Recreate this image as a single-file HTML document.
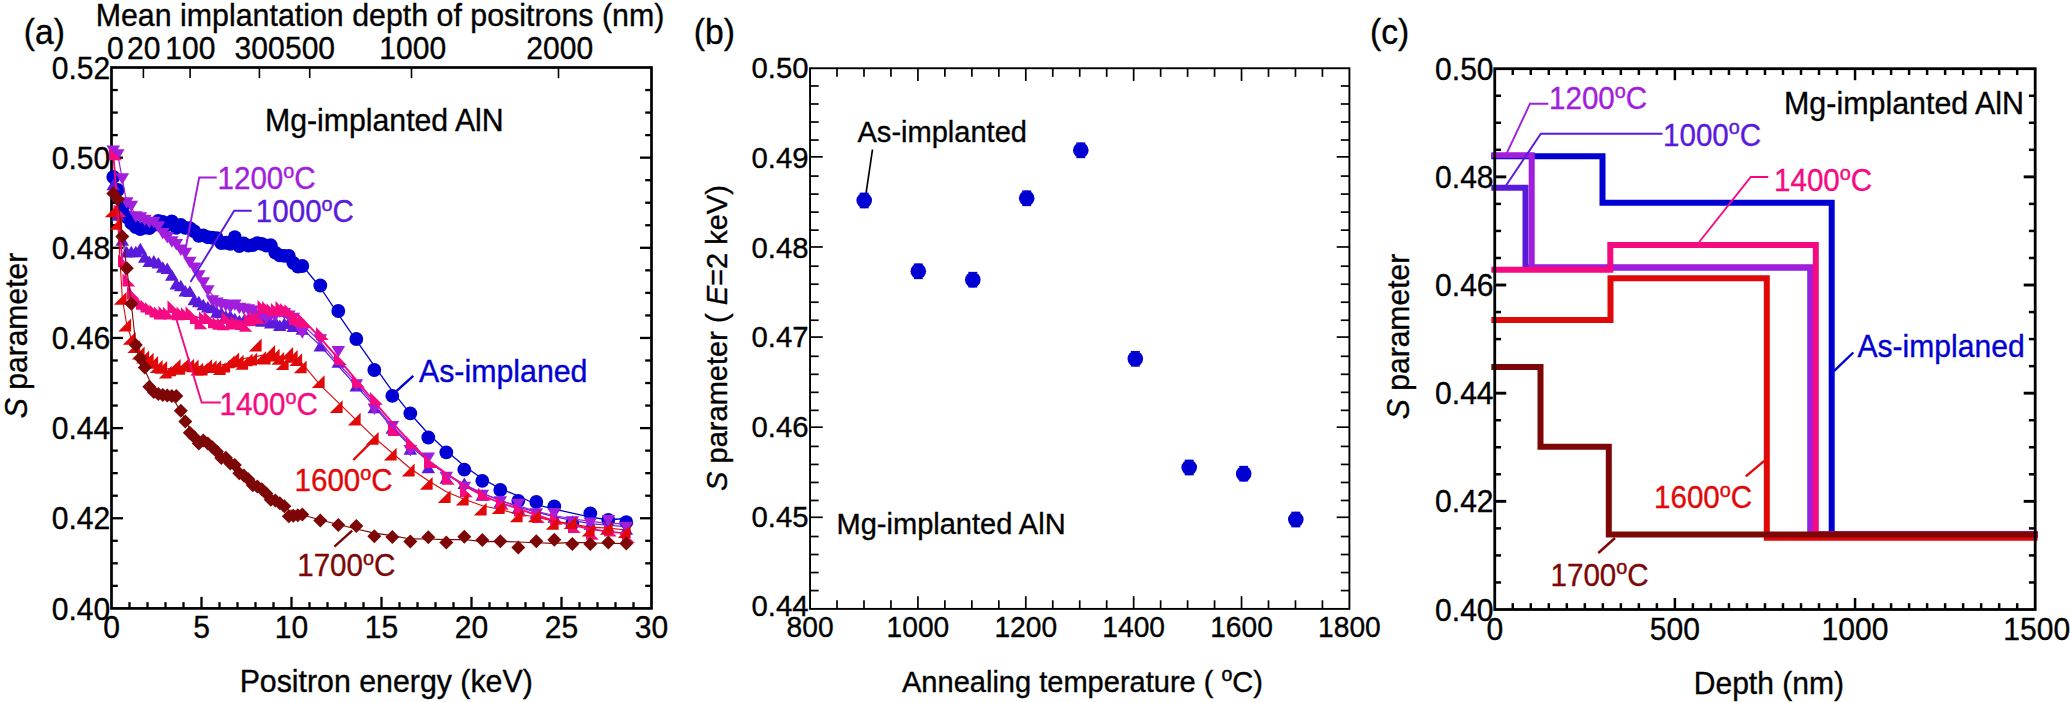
<!DOCTYPE html>
<html lang="en"><head><meta charset="utf-8"><title>Figure</title>
<style>
html,body{margin:0;padding:0;background:#fff;}
body{width:2070px;height:702px;overflow:hidden;}
svg{display:block;font-family:"Liberation Sans",sans-serif;}
text{stroke-width:0.35px;}
</style></head><body>
<svg width="2070" height="702" viewBox="0 0 2070 702">
<rect x="0" y="0" width="2070" height="702" fill="#fff"/>
<line x1="129.50" y1="608.40" x2="129.50" y2="602.10" stroke="#000" stroke-width="2.3" stroke-linecap="butt"/>
<line x1="147.50" y1="608.40" x2="147.50" y2="602.10" stroke="#000" stroke-width="2.3" stroke-linecap="butt"/>
<line x1="165.50" y1="608.40" x2="165.50" y2="602.10" stroke="#000" stroke-width="2.3" stroke-linecap="butt"/>
<line x1="183.50" y1="608.40" x2="183.50" y2="602.10" stroke="#000" stroke-width="2.3" stroke-linecap="butt"/>
<line x1="201.50" y1="608.40" x2="201.50" y2="596.90" stroke="#000" stroke-width="2.3" stroke-linecap="butt"/>
<line x1="219.50" y1="608.40" x2="219.50" y2="602.10" stroke="#000" stroke-width="2.3" stroke-linecap="butt"/>
<line x1="237.50" y1="608.40" x2="237.50" y2="602.10" stroke="#000" stroke-width="2.3" stroke-linecap="butt"/>
<line x1="255.50" y1="608.40" x2="255.50" y2="602.10" stroke="#000" stroke-width="2.3" stroke-linecap="butt"/>
<line x1="273.50" y1="608.40" x2="273.50" y2="602.10" stroke="#000" stroke-width="2.3" stroke-linecap="butt"/>
<line x1="291.50" y1="608.40" x2="291.50" y2="596.90" stroke="#000" stroke-width="2.3" stroke-linecap="butt"/>
<line x1="309.50" y1="608.40" x2="309.50" y2="602.10" stroke="#000" stroke-width="2.3" stroke-linecap="butt"/>
<line x1="327.50" y1="608.40" x2="327.50" y2="602.10" stroke="#000" stroke-width="2.3" stroke-linecap="butt"/>
<line x1="345.50" y1="608.40" x2="345.50" y2="602.10" stroke="#000" stroke-width="2.3" stroke-linecap="butt"/>
<line x1="363.50" y1="608.40" x2="363.50" y2="602.10" stroke="#000" stroke-width="2.3" stroke-linecap="butt"/>
<line x1="381.50" y1="608.40" x2="381.50" y2="596.90" stroke="#000" stroke-width="2.3" stroke-linecap="butt"/>
<line x1="399.50" y1="608.40" x2="399.50" y2="602.10" stroke="#000" stroke-width="2.3" stroke-linecap="butt"/>
<line x1="417.50" y1="608.40" x2="417.50" y2="602.10" stroke="#000" stroke-width="2.3" stroke-linecap="butt"/>
<line x1="435.50" y1="608.40" x2="435.50" y2="602.10" stroke="#000" stroke-width="2.3" stroke-linecap="butt"/>
<line x1="453.50" y1="608.40" x2="453.50" y2="602.10" stroke="#000" stroke-width="2.3" stroke-linecap="butt"/>
<line x1="471.50" y1="608.40" x2="471.50" y2="596.90" stroke="#000" stroke-width="2.3" stroke-linecap="butt"/>
<line x1="489.50" y1="608.40" x2="489.50" y2="602.10" stroke="#000" stroke-width="2.3" stroke-linecap="butt"/>
<line x1="507.50" y1="608.40" x2="507.50" y2="602.10" stroke="#000" stroke-width="2.3" stroke-linecap="butt"/>
<line x1="525.50" y1="608.40" x2="525.50" y2="602.10" stroke="#000" stroke-width="2.3" stroke-linecap="butt"/>
<line x1="543.50" y1="608.40" x2="543.50" y2="602.10" stroke="#000" stroke-width="2.3" stroke-linecap="butt"/>
<line x1="561.50" y1="608.40" x2="561.50" y2="596.90" stroke="#000" stroke-width="2.3" stroke-linecap="butt"/>
<line x1="579.50" y1="608.40" x2="579.50" y2="602.10" stroke="#000" stroke-width="2.3" stroke-linecap="butt"/>
<line x1="597.50" y1="608.40" x2="597.50" y2="602.10" stroke="#000" stroke-width="2.3" stroke-linecap="butt"/>
<line x1="615.50" y1="608.40" x2="615.50" y2="602.10" stroke="#000" stroke-width="2.3" stroke-linecap="butt"/>
<line x1="633.50" y1="608.40" x2="633.50" y2="602.10" stroke="#000" stroke-width="2.3" stroke-linecap="butt"/>
<line x1="111.50" y1="585.86" x2="117.80" y2="585.86" stroke="#000" stroke-width="2.3" stroke-linecap="butt"/>
<line x1="651.50" y1="585.86" x2="645.20" y2="585.86" stroke="#000" stroke-width="2.3" stroke-linecap="butt"/>
<line x1="111.50" y1="563.32" x2="117.80" y2="563.32" stroke="#000" stroke-width="2.3" stroke-linecap="butt"/>
<line x1="651.50" y1="563.32" x2="645.20" y2="563.32" stroke="#000" stroke-width="2.3" stroke-linecap="butt"/>
<line x1="111.50" y1="540.79" x2="117.80" y2="540.79" stroke="#000" stroke-width="2.3" stroke-linecap="butt"/>
<line x1="651.50" y1="540.79" x2="645.20" y2="540.79" stroke="#000" stroke-width="2.3" stroke-linecap="butt"/>
<line x1="111.50" y1="518.25" x2="123.00" y2="518.25" stroke="#000" stroke-width="2.3" stroke-linecap="butt"/>
<line x1="651.50" y1="518.25" x2="640.00" y2="518.25" stroke="#000" stroke-width="2.3" stroke-linecap="butt"/>
<line x1="111.50" y1="495.71" x2="117.80" y2="495.71" stroke="#000" stroke-width="2.3" stroke-linecap="butt"/>
<line x1="651.50" y1="495.71" x2="645.20" y2="495.71" stroke="#000" stroke-width="2.3" stroke-linecap="butt"/>
<line x1="111.50" y1="473.17" x2="117.80" y2="473.17" stroke="#000" stroke-width="2.3" stroke-linecap="butt"/>
<line x1="651.50" y1="473.17" x2="645.20" y2="473.17" stroke="#000" stroke-width="2.3" stroke-linecap="butt"/>
<line x1="111.50" y1="450.64" x2="117.80" y2="450.64" stroke="#000" stroke-width="2.3" stroke-linecap="butt"/>
<line x1="651.50" y1="450.64" x2="645.20" y2="450.64" stroke="#000" stroke-width="2.3" stroke-linecap="butt"/>
<line x1="111.50" y1="428.10" x2="123.00" y2="428.10" stroke="#000" stroke-width="2.3" stroke-linecap="butt"/>
<line x1="651.50" y1="428.10" x2="640.00" y2="428.10" stroke="#000" stroke-width="2.3" stroke-linecap="butt"/>
<line x1="111.50" y1="405.56" x2="117.80" y2="405.56" stroke="#000" stroke-width="2.3" stroke-linecap="butt"/>
<line x1="651.50" y1="405.56" x2="645.20" y2="405.56" stroke="#000" stroke-width="2.3" stroke-linecap="butt"/>
<line x1="111.50" y1="383.02" x2="117.80" y2="383.02" stroke="#000" stroke-width="2.3" stroke-linecap="butt"/>
<line x1="651.50" y1="383.02" x2="645.20" y2="383.02" stroke="#000" stroke-width="2.3" stroke-linecap="butt"/>
<line x1="111.50" y1="360.49" x2="117.80" y2="360.49" stroke="#000" stroke-width="2.3" stroke-linecap="butt"/>
<line x1="651.50" y1="360.49" x2="645.20" y2="360.49" stroke="#000" stroke-width="2.3" stroke-linecap="butt"/>
<line x1="111.50" y1="337.95" x2="123.00" y2="337.95" stroke="#000" stroke-width="2.3" stroke-linecap="butt"/>
<line x1="651.50" y1="337.95" x2="640.00" y2="337.95" stroke="#000" stroke-width="2.3" stroke-linecap="butt"/>
<line x1="111.50" y1="315.41" x2="117.80" y2="315.41" stroke="#000" stroke-width="2.3" stroke-linecap="butt"/>
<line x1="651.50" y1="315.41" x2="645.20" y2="315.41" stroke="#000" stroke-width="2.3" stroke-linecap="butt"/>
<line x1="111.50" y1="292.87" x2="117.80" y2="292.87" stroke="#000" stroke-width="2.3" stroke-linecap="butt"/>
<line x1="651.50" y1="292.87" x2="645.20" y2="292.87" stroke="#000" stroke-width="2.3" stroke-linecap="butt"/>
<line x1="111.50" y1="270.34" x2="117.80" y2="270.34" stroke="#000" stroke-width="2.3" stroke-linecap="butt"/>
<line x1="651.50" y1="270.34" x2="645.20" y2="270.34" stroke="#000" stroke-width="2.3" stroke-linecap="butt"/>
<line x1="111.50" y1="247.80" x2="123.00" y2="247.80" stroke="#000" stroke-width="2.3" stroke-linecap="butt"/>
<line x1="651.50" y1="247.80" x2="640.00" y2="247.80" stroke="#000" stroke-width="2.3" stroke-linecap="butt"/>
<line x1="111.50" y1="225.26" x2="117.80" y2="225.26" stroke="#000" stroke-width="2.3" stroke-linecap="butt"/>
<line x1="651.50" y1="225.26" x2="645.20" y2="225.26" stroke="#000" stroke-width="2.3" stroke-linecap="butt"/>
<line x1="111.50" y1="202.73" x2="117.80" y2="202.73" stroke="#000" stroke-width="2.3" stroke-linecap="butt"/>
<line x1="651.50" y1="202.73" x2="645.20" y2="202.73" stroke="#000" stroke-width="2.3" stroke-linecap="butt"/>
<line x1="111.50" y1="180.19" x2="117.80" y2="180.19" stroke="#000" stroke-width="2.3" stroke-linecap="butt"/>
<line x1="651.50" y1="180.19" x2="645.20" y2="180.19" stroke="#000" stroke-width="2.3" stroke-linecap="butt"/>
<line x1="111.50" y1="157.65" x2="123.00" y2="157.65" stroke="#000" stroke-width="2.3" stroke-linecap="butt"/>
<line x1="651.50" y1="157.65" x2="640.00" y2="157.65" stroke="#000" stroke-width="2.3" stroke-linecap="butt"/>
<line x1="111.50" y1="135.11" x2="117.80" y2="135.11" stroke="#000" stroke-width="2.3" stroke-linecap="butt"/>
<line x1="651.50" y1="135.11" x2="645.20" y2="135.11" stroke="#000" stroke-width="2.3" stroke-linecap="butt"/>
<line x1="111.50" y1="112.58" x2="117.80" y2="112.58" stroke="#000" stroke-width="2.3" stroke-linecap="butt"/>
<line x1="651.50" y1="112.58" x2="645.20" y2="112.58" stroke="#000" stroke-width="2.3" stroke-linecap="butt"/>
<line x1="111.50" y1="90.04" x2="117.80" y2="90.04" stroke="#000" stroke-width="2.3" stroke-linecap="butt"/>
<line x1="651.50" y1="90.04" x2="645.20" y2="90.04" stroke="#000" stroke-width="2.3" stroke-linecap="butt"/>
<line x1="143.40" y1="67.50" x2="143.40" y2="78.10" stroke="#000" stroke-width="1.6" stroke-linecap="butt"/>
<line x1="190.10" y1="67.50" x2="190.10" y2="78.10" stroke="#000" stroke-width="1.6" stroke-linecap="butt"/>
<line x1="259.40" y1="67.50" x2="259.40" y2="78.10" stroke="#000" stroke-width="1.6" stroke-linecap="butt"/>
<line x1="309.70" y1="67.50" x2="309.70" y2="78.10" stroke="#000" stroke-width="1.6" stroke-linecap="butt"/>
<line x1="411.50" y1="67.50" x2="411.50" y2="78.10" stroke="#000" stroke-width="1.6" stroke-linecap="butt"/>
<line x1="558.50" y1="67.50" x2="558.50" y2="78.10" stroke="#000" stroke-width="1.6" stroke-linecap="butt"/>
<rect x="111.50" y="67.50" width="540.00" height="540.90" fill="none" stroke="#000" stroke-width="2.7"/>
<text transform="translate(115.30,59.00) scale(0.961,1)" font-size="31.3" text-anchor="middle" fill="#000" stroke="#000" >0</text>
<text transform="translate(143.70,59.00) scale(0.961,1)" font-size="31.3" text-anchor="middle" fill="#000" stroke="#000" >20</text>
<text transform="translate(190.40,59.00) scale(0.961,1)" font-size="31.3" text-anchor="middle" fill="#000" stroke="#000" >100</text>
<text transform="translate(259.70,59.00) scale(0.961,1)" font-size="31.3" text-anchor="middle" fill="#000" stroke="#000" >300</text>
<text transform="translate(310.00,59.00) scale(0.961,1)" font-size="31.3" text-anchor="middle" fill="#000" stroke="#000" >500</text>
<text transform="translate(412.80,59.00) scale(0.961,1)" font-size="31.3" text-anchor="middle" fill="#000" stroke="#000" >1000</text>
<text transform="translate(559.80,59.00) scale(0.961,1)" font-size="31.3" text-anchor="middle" fill="#000" stroke="#000" >2000</text>
<text transform="translate(110.30,619.50) scale(0.961,1)" font-size="31.3" text-anchor="end" fill="#000" stroke="#000" >0.40</text>
<text transform="translate(110.30,529.35) scale(0.961,1)" font-size="31.3" text-anchor="end" fill="#000" stroke="#000" >0.42</text>
<text transform="translate(110.30,439.20) scale(0.961,1)" font-size="31.3" text-anchor="end" fill="#000" stroke="#000" >0.44</text>
<text transform="translate(110.30,349.05) scale(0.961,1)" font-size="31.3" text-anchor="end" fill="#000" stroke="#000" >0.46</text>
<text transform="translate(110.30,258.90) scale(0.961,1)" font-size="31.3" text-anchor="end" fill="#000" stroke="#000" >0.48</text>
<text transform="translate(110.30,168.75) scale(0.961,1)" font-size="31.3" text-anchor="end" fill="#000" stroke="#000" >0.50</text>
<text transform="translate(110.30,78.60) scale(0.961,1)" font-size="31.3" text-anchor="end" fill="#000" stroke="#000" >0.52</text>
<text transform="translate(111.50,638.00) scale(0.961,1)" font-size="31.3" text-anchor="middle" fill="#000" stroke="#000" >0</text>
<text transform="translate(201.50,638.00) scale(0.961,1)" font-size="31.3" text-anchor="middle" fill="#000" stroke="#000" >5</text>
<text transform="translate(291.50,638.00) scale(0.961,1)" font-size="31.3" text-anchor="middle" fill="#000" stroke="#000" >10</text>
<text transform="translate(381.50,638.00) scale(0.961,1)" font-size="31.3" text-anchor="middle" fill="#000" stroke="#000" >15</text>
<text transform="translate(471.50,638.00) scale(0.961,1)" font-size="31.3" text-anchor="middle" fill="#000" stroke="#000" >20</text>
<text transform="translate(561.50,638.00) scale(0.961,1)" font-size="31.3" text-anchor="middle" fill="#000" stroke="#000" >25</text>
<text transform="translate(651.50,638.00) scale(0.961,1)" font-size="31.3" text-anchor="middle" fill="#000" stroke="#000" >30</text>
<text transform="translate(380.00,25.60) scale(0.97,1)" font-size="31.3" text-anchor="middle" fill="#000" stroke="#000" >Mean implantation depth of positrons (nm)</text>
<text transform="translate(23.80,43.70) scale(0.98,1)" font-size="34.3" text-anchor="start" fill="#000" stroke="#000" >(a)</text>
<text transform="translate(384.30,131.00) scale(0.967,1)" font-size="31.3" text-anchor="middle" fill="#000" stroke="#000" >Mg-implanted AlN</text>
<text transform="translate(386.20,692.30) scale(0.969,1)" font-size="31.3" text-anchor="middle" fill="#000" stroke="#000" >Positron energy (keV)</text>
<text transform="translate(26.5,335.5) rotate(-90) scale(0.961,1)" font-size="31.3" text-anchor="middle" stroke="#000"><tspan font-style="italic">S</tspan> parameter</text>
<polyline points="113.30,177.00 117.80,190.00 122.30,208.00 126.80,217.00 131.30,223.00 135.80,227.00 140.30,227.93 144.80,227.30 149.30,226.07 153.80,224.64 158.30,224.11 162.80,222.78 167.30,223.38 171.80,224.20 176.30,225.41 180.80,226.03 185.30,228.01 189.80,229.62 194.30,231.52 198.80,233.35 203.30,234.80 207.80,236.93 212.30,238.57 216.80,239.72 221.30,239.97 225.80,241.24 230.30,242.06 234.80,243.15 239.30,243.45 243.80,243.50 248.30,243.49 252.80,244.70 257.30,244.58 261.80,245.88 266.30,247.28 270.80,248.81 275.30,250.62 279.80,253.34 284.30,256.35 288.80,259.31 293.30,259.31 297.80,260.42 302.30,265.43 320.30,287.50 338.30,314.30 356.30,340.26 374.30,365.82 392.30,391.12 410.30,413.78 428.30,433.72 446.30,450.72 464.30,466.06 482.30,478.72 500.30,488.66 518.30,495.98 536.30,504.52 554.30,509.18 572.30,513.02 590.30,517.06 608.30,519.75 626.30,518.50" fill="none" stroke="#0000D2" stroke-width="1.3" stroke-linejoin="round" stroke-linecap="butt"/>
<circle cx="113.30" cy="177.00" r="6.9" fill="#0000D2"/>
<circle cx="117.80" cy="190.00" r="6.9" fill="#0000D2"/>
<circle cx="122.30" cy="208.00" r="6.9" fill="#0000D2"/>
<circle cx="126.80" cy="217.00" r="6.9" fill="#0000D2"/>
<circle cx="131.30" cy="223.00" r="6.9" fill="#0000D2"/>
<circle cx="135.80" cy="227.00" r="6.9" fill="#0000D2"/>
<circle cx="140.30" cy="229.00" r="6.9" fill="#0000D2"/>
<circle cx="144.80" cy="227.70" r="6.9" fill="#0000D2"/>
<circle cx="149.30" cy="228.03" r="6.9" fill="#0000D2"/>
<circle cx="153.80" cy="224.76" r="6.9" fill="#0000D2"/>
<circle cx="158.30" cy="220.85" r="6.9" fill="#0000D2"/>
<circle cx="162.80" cy="221.87" r="6.9" fill="#0000D2"/>
<circle cx="167.30" cy="225.04" r="6.9" fill="#0000D2"/>
<circle cx="171.80" cy="221.38" r="6.9" fill="#0000D2"/>
<circle cx="176.30" cy="227.77" r="6.9" fill="#0000D2"/>
<circle cx="180.80" cy="224.96" r="6.9" fill="#0000D2"/>
<circle cx="185.30" cy="227.88" r="6.9" fill="#0000D2"/>
<circle cx="189.80" cy="228.16" r="6.9" fill="#0000D2"/>
<circle cx="194.30" cy="231.27" r="6.9" fill="#0000D2"/>
<circle cx="198.80" cy="235.82" r="6.9" fill="#0000D2"/>
<circle cx="203.30" cy="235.33" r="6.9" fill="#0000D2"/>
<circle cx="207.80" cy="237.24" r="6.9" fill="#0000D2"/>
<circle cx="212.30" cy="237.73" r="6.9" fill="#0000D2"/>
<circle cx="216.80" cy="238.06" r="6.9" fill="#0000D2"/>
<circle cx="221.30" cy="243.03" r="6.9" fill="#0000D2"/>
<circle cx="225.80" cy="242.76" r="6.9" fill="#0000D2"/>
<circle cx="230.30" cy="243.91" r="6.9" fill="#0000D2"/>
<circle cx="234.80" cy="237.06" r="6.9" fill="#0000D2"/>
<circle cx="239.30" cy="246.10" r="6.9" fill="#0000D2"/>
<circle cx="243.80" cy="243.51" r="6.9" fill="#0000D2"/>
<circle cx="248.30" cy="245.71" r="6.9" fill="#0000D2"/>
<circle cx="252.80" cy="245.12" r="6.9" fill="#0000D2"/>
<circle cx="257.30" cy="243.12" r="6.9" fill="#0000D2"/>
<circle cx="261.80" cy="243.79" r="6.9" fill="#0000D2"/>
<circle cx="266.30" cy="245.55" r="6.9" fill="#0000D2"/>
<circle cx="270.80" cy="245.27" r="6.9" fill="#0000D2"/>
<circle cx="275.30" cy="252.63" r="6.9" fill="#0000D2"/>
<circle cx="279.80" cy="255.46" r="6.9" fill="#0000D2"/>
<circle cx="284.30" cy="255.81" r="6.9" fill="#0000D2"/>
<circle cx="288.80" cy="255.80" r="6.9" fill="#0000D2"/>
<circle cx="293.30" cy="262.87" r="6.9" fill="#0000D2"/>
<circle cx="297.80" cy="266.57" r="6.9" fill="#0000D2"/>
<circle cx="302.30" cy="266.00" r="6.9" fill="#0000D2"/>
<circle cx="320.30" cy="285.50" r="6.9" fill="#0000D2"/>
<circle cx="338.30" cy="311.00" r="6.9" fill="#0000D2"/>
<circle cx="356.30" cy="339.00" r="6.9" fill="#0000D2"/>
<circle cx="374.30" cy="370.00" r="6.9" fill="#0000D2"/>
<circle cx="392.30" cy="395.80" r="6.9" fill="#0000D2"/>
<circle cx="410.30" cy="413.30" r="6.9" fill="#0000D2"/>
<circle cx="428.30" cy="437.50" r="6.9" fill="#0000D2"/>
<circle cx="446.30" cy="452.30" r="6.9" fill="#0000D2"/>
<circle cx="464.30" cy="469.70" r="6.9" fill="#0000D2"/>
<circle cx="482.30" cy="480.80" r="6.9" fill="#0000D2"/>
<circle cx="500.30" cy="490.00" r="6.9" fill="#0000D2"/>
<circle cx="518.30" cy="500.80" r="6.9" fill="#0000D2"/>
<circle cx="536.30" cy="502.00" r="6.9" fill="#0000D2"/>
<circle cx="554.30" cy="506.30" r="6.9" fill="#0000D2"/>
<circle cx="572.30" cy="523.50" r="6.9" fill="#0000D2"/>
<circle cx="590.30" cy="513.30" r="6.9" fill="#0000D2"/>
<circle cx="608.30" cy="520.00" r="6.9" fill="#0000D2"/>
<circle cx="626.30" cy="522.20" r="6.9" fill="#0000D2"/>
<polyline points="113.30,184.50 117.80,215.00 122.30,240.00 126.80,251.70 131.30,251.50 135.80,251.50 140.30,254.56 144.80,255.78 149.30,258.02 153.80,261.70 158.30,263.94 162.80,266.74 167.30,271.35 171.80,275.90 176.30,280.68 180.80,285.28 185.30,290.18 189.80,293.73 194.30,297.12 198.80,300.29 203.30,303.31 207.80,306.34 212.30,308.63 216.80,310.66 221.30,312.66 225.80,314.61 230.30,316.45 234.80,317.47 239.30,318.52 243.80,318.80 248.30,319.57 252.80,319.58 257.30,319.92 261.80,320.05 266.30,320.93 270.80,321.42 275.30,322.15 279.80,322.87 284.30,323.84 288.80,324.74 293.30,324.74 297.80,325.28 302.30,328.72 320.30,345.60 338.30,366.02 356.30,385.82 374.30,406.46 392.30,427.56 410.30,446.00 428.30,461.16 446.30,474.56 464.30,485.16 482.30,493.26 500.30,500.26 518.30,507.00 536.30,512.20 554.30,516.60 572.30,520.40 590.30,523.60 608.30,525.25 626.30,526.67" fill="none" stroke="#5A1ADC" stroke-width="1.2" stroke-linejoin="round" stroke-linecap="butt"/>
<polygon points="113.30,178.75 106.50,190.25 120.10,190.25" fill="#5A1ADC"/>
<polygon points="117.80,209.25 111.00,220.75 124.60,220.75" fill="#5A1ADC"/>
<polygon points="122.30,234.25 115.50,245.75 129.10,245.75" fill="#5A1ADC"/>
<polygon points="126.80,245.95 120.00,257.45 133.60,257.45" fill="#5A1ADC"/>
<polygon points="131.30,245.75 124.50,257.25 138.10,257.25" fill="#5A1ADC"/>
<polygon points="135.80,245.75 129.00,257.25 142.60,257.25" fill="#5A1ADC"/>
<polygon points="140.30,242.75 133.50,254.25 147.10,254.25" fill="#5A1ADC"/>
<polygon points="144.80,251.37 138.00,262.87 151.60,262.87" fill="#5A1ADC"/>
<polygon points="149.30,255.38 142.50,266.88 156.10,266.88" fill="#5A1ADC"/>
<polygon points="153.80,254.92 147.00,266.42 160.60,266.42" fill="#5A1ADC"/>
<polygon points="158.30,256.91 151.50,268.41 165.10,268.41" fill="#5A1ADC"/>
<polygon points="162.80,261.18 156.00,272.68 169.60,272.68" fill="#5A1ADC"/>
<polygon points="167.30,262.58 160.50,274.08 174.10,274.08" fill="#5A1ADC"/>
<polygon points="171.80,269.36 165.00,280.86 178.60,280.86" fill="#5A1ADC"/>
<polygon points="176.30,277.99 169.50,289.49 183.10,289.49" fill="#5A1ADC"/>
<polygon points="180.80,279.67 174.00,291.17 187.60,291.17" fill="#5A1ADC"/>
<polygon points="185.30,285.05 178.50,296.55 192.10,296.55" fill="#5A1ADC"/>
<polygon points="189.80,285.56 183.00,297.06 196.60,297.06" fill="#5A1ADC"/>
<polygon points="194.30,293.86 187.50,305.36 201.10,305.36" fill="#5A1ADC"/>
<polygon points="198.80,295.73 192.00,307.23 205.60,307.23" fill="#5A1ADC"/>
<polygon points="203.30,298.72 196.50,310.22 210.10,310.22" fill="#5A1ADC"/>
<polygon points="207.80,300.98 201.00,312.48 214.60,312.48" fill="#5A1ADC"/>
<polygon points="212.30,301.86 205.50,313.36 219.10,313.36" fill="#5A1ADC"/>
<polygon points="216.80,306.21 210.00,317.71 223.60,317.71" fill="#5A1ADC"/>
<polygon points="221.30,306.79 214.50,318.29 228.10,318.29" fill="#5A1ADC"/>
<polygon points="225.80,309.88 219.00,321.38 232.60,321.38" fill="#5A1ADC"/>
<polygon points="230.30,309.94 223.50,321.44 237.10,321.44" fill="#5A1ADC"/>
<polygon points="234.80,312.71 228.00,324.21 241.60,324.21" fill="#5A1ADC"/>
<polygon points="239.30,314.63 232.50,326.13 246.10,326.13" fill="#5A1ADC"/>
<polygon points="243.80,314.77 237.00,326.27 250.60,326.27" fill="#5A1ADC"/>
<polygon points="248.30,313.32 241.50,324.82 255.10,324.82" fill="#5A1ADC"/>
<polygon points="252.80,314.16 246.00,325.66 259.60,325.66" fill="#5A1ADC"/>
<polygon points="257.30,311.79 250.50,323.29 264.10,323.29" fill="#5A1ADC"/>
<polygon points="261.80,315.33 255.00,326.83 268.60,326.83" fill="#5A1ADC"/>
<polygon points="266.30,312.82 259.50,324.32 273.10,324.32" fill="#5A1ADC"/>
<polygon points="270.80,317.01 264.00,328.51 277.60,328.51" fill="#5A1ADC"/>
<polygon points="275.30,315.70 268.50,327.20 282.10,327.20" fill="#5A1ADC"/>
<polygon points="279.80,319.45 273.00,330.95 286.60,330.95" fill="#5A1ADC"/>
<polygon points="284.30,317.61 277.50,329.11 291.10,329.11" fill="#5A1ADC"/>
<polygon points="288.80,316.85 282.00,328.35 295.60,328.35" fill="#5A1ADC"/>
<polygon points="293.30,320.43 286.50,331.93 300.10,331.93" fill="#5A1ADC"/>
<polygon points="297.80,319.61 291.00,331.11 304.60,331.11" fill="#5A1ADC"/>
<polygon points="302.30,323.25 295.50,334.75 309.10,334.75" fill="#5A1ADC"/>
<polygon points="320.30,340.05 313.50,351.55 327.10,351.55" fill="#5A1ADC"/>
<polygon points="338.30,356.25 331.50,367.75 345.10,367.75" fill="#5A1ADC"/>
<polygon points="356.30,380.05 349.50,391.55 363.10,391.55" fill="#5A1ADC"/>
<polygon points="374.30,401.75 367.50,413.25 381.10,413.25" fill="#5A1ADC"/>
<polygon points="392.30,422.25 385.50,433.75 399.10,433.75" fill="#5A1ADC"/>
<polygon points="410.30,443.25 403.50,454.75 417.10,454.75" fill="#5A1ADC"/>
<polygon points="428.30,461.75 421.50,473.25 435.10,473.25" fill="#5A1ADC"/>
<polygon points="446.30,472.25 439.50,483.75 453.10,483.75" fill="#5A1ADC"/>
<polygon points="464.30,477.55 457.50,489.05 471.10,489.05" fill="#5A1ADC"/>
<polygon points="482.30,489.25 475.50,500.75 489.10,500.75" fill="#5A1ADC"/>
<polygon points="500.30,496.25 493.50,507.75 507.10,507.75" fill="#5A1ADC"/>
<polygon points="518.30,502.25 511.50,513.75 525.10,513.75" fill="#5A1ADC"/>
<polygon points="536.30,507.25 529.50,518.75 543.10,518.75" fill="#5A1ADC"/>
<polygon points="554.30,511.25 547.50,522.75 561.10,522.75" fill="#5A1ADC"/>
<polygon points="572.30,515.25 565.50,526.75 579.10,526.75" fill="#5A1ADC"/>
<polygon points="590.30,518.25 583.50,529.75 597.10,529.75" fill="#5A1ADC"/>
<polygon points="608.30,521.25 601.50,532.75 615.10,532.75" fill="#5A1ADC"/>
<polygon points="626.30,523.25 619.50,534.75 633.10,534.75" fill="#5A1ADC"/>
<polyline points="113.30,151.20 117.80,154.90 122.30,179.00 126.80,203.00 131.30,206.40 135.80,217.00 140.30,219.55 144.80,220.14 149.30,222.13 153.80,225.28 158.30,228.73 162.80,232.54 167.30,237.02 171.80,241.65 176.30,245.65 180.80,250.60 185.30,255.89 189.80,262.13 194.30,269.23 198.80,276.48 203.30,283.58 207.80,289.61 212.30,294.98 216.80,299.50 221.30,302.65 225.80,305.18 230.30,306.38 234.80,307.34 239.30,308.28 243.80,309.69 248.30,310.95 252.80,312.87 257.30,313.91 261.80,314.88 266.30,315.21 270.80,315.57 275.30,315.63 279.80,315.93 284.30,316.93 288.80,319.37 293.30,319.37 297.80,319.91 302.30,324.52 320.30,341.57 338.30,363.78 356.30,382.52 374.30,404.68 392.30,426.00 410.30,444.50 428.30,460.16 446.30,473.92 464.30,484.16 482.30,493.40 500.30,500.70 518.30,505.94 536.30,511.24 554.30,515.50 572.30,518.76 590.30,521.46 608.30,523.40 626.30,523.87" fill="none" stroke="#A01EDC" stroke-width="1.2" stroke-linejoin="round" stroke-linecap="butt"/>
<polygon points="113.30,156.95 106.50,145.45 120.10,145.45" fill="#A01EDC"/>
<polygon points="117.80,160.65 111.00,149.15 124.60,149.15" fill="#A01EDC"/>
<polygon points="122.30,184.75 115.50,173.25 129.10,173.25" fill="#A01EDC"/>
<polygon points="126.80,208.75 120.00,197.25 133.60,197.25" fill="#A01EDC"/>
<polygon points="131.30,212.15 124.50,200.65 138.10,200.65" fill="#A01EDC"/>
<polygon points="135.80,222.75 129.00,211.25 142.60,211.25" fill="#A01EDC"/>
<polygon points="140.30,223.65 133.50,212.15 147.10,212.15" fill="#A01EDC"/>
<polygon points="144.80,226.25 138.00,214.75 151.60,214.75" fill="#A01EDC"/>
<polygon points="149.30,228.55 142.50,217.05 156.10,217.05" fill="#A01EDC"/>
<polygon points="153.80,228.23 147.00,216.73 160.60,216.73" fill="#A01EDC"/>
<polygon points="158.30,232.74 151.50,221.24 165.10,221.24" fill="#A01EDC"/>
<polygon points="162.80,239.38 156.00,227.88 169.60,227.88" fill="#A01EDC"/>
<polygon points="167.30,243.49 160.50,231.99 174.10,231.99" fill="#A01EDC"/>
<polygon points="171.80,247.63 165.00,236.13 178.60,236.13" fill="#A01EDC"/>
<polygon points="176.30,250.59 169.50,239.09 183.10,239.09" fill="#A01EDC"/>
<polygon points="180.80,255.92 174.00,244.42 187.60,244.42" fill="#A01EDC"/>
<polygon points="185.30,259.37 178.50,247.87 192.10,247.87" fill="#A01EDC"/>
<polygon points="189.80,268.26 183.00,256.76 196.60,256.76" fill="#A01EDC"/>
<polygon points="194.30,274.07 187.50,262.57 201.10,262.57" fill="#A01EDC"/>
<polygon points="198.80,281.78 192.00,270.28 205.60,270.28" fill="#A01EDC"/>
<polygon points="203.30,288.79 196.50,277.29 210.10,277.29" fill="#A01EDC"/>
<polygon points="207.80,296.68 201.00,285.18 214.60,285.18" fill="#A01EDC"/>
<polygon points="212.30,306.69 205.50,295.19 219.10,295.19" fill="#A01EDC"/>
<polygon points="216.80,309.03 210.00,297.53 223.60,297.53" fill="#A01EDC"/>
<polygon points="221.30,310.50 214.50,299.00 228.10,299.00" fill="#A01EDC"/>
<polygon points="225.80,311.61 219.00,300.11 232.60,300.11" fill="#A01EDC"/>
<polygon points="230.30,313.42 223.50,301.92 237.10,301.92" fill="#A01EDC"/>
<polygon points="234.80,310.90 228.00,299.40 241.60,299.40" fill="#A01EDC"/>
<polygon points="239.30,314.34 232.50,302.84 246.10,302.84" fill="#A01EDC"/>
<polygon points="243.80,315.10 237.00,303.60 250.60,303.60" fill="#A01EDC"/>
<polygon points="248.30,315.77 241.50,304.27 255.10,304.27" fill="#A01EDC"/>
<polygon points="252.80,317.04 246.00,305.54 259.60,305.54" fill="#A01EDC"/>
<polygon points="257.30,321.50 250.50,310.00 264.10,310.00" fill="#A01EDC"/>
<polygon points="261.80,322.23 255.00,310.73 268.60,310.73" fill="#A01EDC"/>
<polygon points="266.30,324.32 259.50,312.82 273.10,312.82" fill="#A01EDC"/>
<polygon points="270.80,321.64 264.00,310.14 277.60,310.14" fill="#A01EDC"/>
<polygon points="275.30,321.91 268.50,310.41 282.10,310.41" fill="#A01EDC"/>
<polygon points="279.80,318.09 273.00,306.59 286.60,306.59" fill="#A01EDC"/>
<polygon points="284.30,319.58 277.50,308.08 291.10,308.08" fill="#A01EDC"/>
<polygon points="288.80,321.90 282.00,310.40 295.60,310.40" fill="#A01EDC"/>
<polygon points="293.30,324.28 286.50,312.78 300.10,312.78" fill="#A01EDC"/>
<polygon points="297.80,331.34 291.00,319.84 304.60,319.84" fill="#A01EDC"/>
<polygon points="302.30,338.75 295.50,327.25 309.10,327.25" fill="#A01EDC"/>
<polygon points="320.30,345.75 313.50,334.25 327.10,334.25" fill="#A01EDC"/>
<polygon points="338.30,357.45 331.50,345.95 345.10,345.95" fill="#A01EDC"/>
<polygon points="356.30,390.75 349.50,379.25 363.10,379.25" fill="#A01EDC"/>
<polygon points="374.30,414.95 367.50,403.45 381.10,403.45" fill="#A01EDC"/>
<polygon points="392.30,432.45 385.50,420.95 399.10,420.95" fill="#A01EDC"/>
<polygon points="410.30,456.55 403.50,445.05 417.10,445.05" fill="#A01EDC"/>
<polygon points="428.30,464.05 421.50,452.55 435.10,452.55" fill="#A01EDC"/>
<polygon points="446.30,483.25 439.50,471.75 453.10,471.75" fill="#A01EDC"/>
<polygon points="464.30,493.25 457.50,481.75 471.10,481.75" fill="#A01EDC"/>
<polygon points="482.30,501.25 475.50,489.75 489.10,489.75" fill="#A01EDC"/>
<polygon points="500.30,507.75 493.50,496.25 507.10,496.25" fill="#A01EDC"/>
<polygon points="518.30,510.25 511.50,498.75 525.10,498.75" fill="#A01EDC"/>
<polygon points="536.30,519.75 529.50,508.25 543.10,508.25" fill="#A01EDC"/>
<polygon points="554.30,519.45 547.50,507.95 561.10,507.95" fill="#A01EDC"/>
<polygon points="572.30,527.75 565.50,516.25 579.10,516.25" fill="#A01EDC"/>
<polygon points="590.30,529.05 583.50,517.55 597.10,517.55" fill="#A01EDC"/>
<polygon points="608.30,526.55 601.50,515.05 615.10,515.05" fill="#A01EDC"/>
<polygon points="626.30,533.25 619.50,521.75 633.10,521.75" fill="#A01EDC"/>
<polyline points="113.30,153.80 117.80,210.70 122.30,260.90 126.80,280.00 131.30,293.00 135.80,300.00 140.30,304.40 144.80,305.72 149.30,308.32 153.80,310.12 158.30,311.54 162.80,311.22 167.30,311.81 171.80,311.80 176.30,312.08 180.80,312.02 185.30,314.18 189.80,315.97 194.30,316.39 198.80,317.65 203.30,319.03 207.80,320.62 212.30,320.62 216.80,320.67 221.30,321.33 225.80,322.24 230.30,322.73 234.80,322.18 239.30,321.30 243.80,321.34 248.30,318.93 252.80,316.82 257.30,314.82 261.80,312.55 266.30,310.81 270.80,309.61 275.30,308.57 279.80,310.36 284.30,312.18 288.80,313.90 293.30,313.90 297.80,314.65 302.30,319.01 320.30,337.90 338.30,358.60 356.30,380.16 374.30,401.96 392.30,422.60 410.30,442.06 428.30,460.56 446.30,473.50 464.30,485.66 482.30,495.32 500.30,503.00 518.30,508.50 536.30,515.00 554.30,521.00 572.30,525.00 590.30,529.00 608.30,531.67 626.30,533.33" fill="none" stroke="#F50A82" stroke-width="1.9" stroke-linejoin="round" stroke-linecap="butt"/>
<polygon points="109.00,147.40 109.00,160.20 121.80,160.20" fill="#F50A82"/>
<polygon points="113.50,204.30 113.50,217.10 126.30,217.10" fill="#F50A82"/>
<polygon points="118.00,254.50 118.00,267.30 130.80,267.30" fill="#F50A82"/>
<polygon points="122.50,273.60 122.50,286.40 135.30,286.40" fill="#F50A82"/>
<polygon points="127.00,286.60 127.00,299.40 139.80,299.40" fill="#F50A82"/>
<polygon points="131.50,293.60 131.50,306.40 144.30,306.40" fill="#F50A82"/>
<polygon points="136.00,296.90 136.00,309.70 148.80,309.70" fill="#F50A82"/>
<polygon points="140.50,299.60 140.50,312.40 153.30,312.40" fill="#F50A82"/>
<polygon points="145.00,301.90 145.00,314.70 157.80,314.70" fill="#F50A82"/>
<polygon points="149.50,304.60 149.50,317.40 162.30,317.40" fill="#F50A82"/>
<polygon points="154.00,306.60 154.00,319.40 166.80,319.40" fill="#F50A82"/>
<polygon points="158.50,305.92 158.50,318.72 171.30,318.72" fill="#F50A82"/>
<polygon points="163.00,306.68 163.00,319.48 175.80,319.48" fill="#F50A82"/>
<polygon points="167.50,300.32 167.50,313.12 180.30,313.12" fill="#F50A82"/>
<polygon points="172.00,307.53 172.00,320.33 184.80,320.33" fill="#F50A82"/>
<polygon points="176.50,306.58 176.50,319.38 189.30,319.38" fill="#F50A82"/>
<polygon points="181.00,307.32 181.00,320.12 193.80,320.12" fill="#F50A82"/>
<polygon points="185.50,306.36 185.50,319.16 198.30,319.16" fill="#F50A82"/>
<polygon points="190.00,311.11 190.00,323.91 202.80,323.91" fill="#F50A82"/>
<polygon points="194.50,316.50 194.50,329.30 207.30,329.30" fill="#F50A82"/>
<polygon points="199.00,311.16 199.00,323.96 211.80,323.96" fill="#F50A82"/>
<polygon points="203.50,310.89 203.50,323.69 216.30,323.69" fill="#F50A82"/>
<polygon points="208.00,315.43 208.00,328.23 220.80,328.23" fill="#F50A82"/>
<polygon points="212.50,316.99 212.50,329.79 225.30,329.79" fill="#F50A82"/>
<polygon points="217.00,317.43 217.00,330.23 229.80,330.23" fill="#F50A82"/>
<polygon points="221.50,311.16 221.50,323.96 234.30,323.96" fill="#F50A82"/>
<polygon points="226.00,316.79 226.00,329.59 238.80,329.59" fill="#F50A82"/>
<polygon points="230.50,315.83 230.50,328.63 243.30,328.63" fill="#F50A82"/>
<polygon points="235.00,317.24 235.00,330.04 247.80,330.04" fill="#F50A82"/>
<polygon points="239.50,318.90 239.50,331.70 252.30,331.70" fill="#F50A82"/>
<polygon points="244.00,313.10 244.00,325.90 256.80,325.90" fill="#F50A82"/>
<polygon points="248.50,311.28 248.50,324.08 261.30,324.08" fill="#F50A82"/>
<polygon points="253.00,311.45 253.00,324.25 265.80,324.25" fill="#F50A82"/>
<polygon points="257.50,299.93 257.50,312.73 270.30,312.73" fill="#F50A82"/>
<polygon points="262.00,301.02 262.00,313.82 274.80,313.82" fill="#F50A82"/>
<polygon points="266.50,303.25 266.50,316.05 279.30,316.05" fill="#F50A82"/>
<polygon points="271.00,303.00 271.00,315.80 283.80,315.80" fill="#F50A82"/>
<polygon points="275.50,300.94 275.50,313.74 288.30,313.74" fill="#F50A82"/>
<polygon points="280.00,302.89 280.00,315.69 292.80,315.69" fill="#F50A82"/>
<polygon points="284.50,304.16 284.50,316.96 297.30,316.96" fill="#F50A82"/>
<polygon points="289.00,312.48 289.00,325.28 301.80,325.28" fill="#F50A82"/>
<polygon points="293.50,313.72 293.50,326.52 306.30,326.52" fill="#F50A82"/>
<polygon points="298.00,315.30 298.00,328.10 310.80,328.10" fill="#F50A82"/>
<polygon points="316.00,327.10 316.00,339.90 328.80,339.90" fill="#F50A82"/>
<polygon points="334.00,352.10 334.00,364.90 346.80,364.90" fill="#F50A82"/>
<polygon points="352.00,374.60 352.00,387.40 364.80,387.40" fill="#F50A82"/>
<polygon points="370.00,391.90 370.00,404.70 382.80,404.70" fill="#F50A82"/>
<polygon points="388.00,423.10 388.00,435.90 400.80,435.90" fill="#F50A82"/>
<polygon points="406.00,436.10 406.00,448.90 418.80,448.90" fill="#F50A82"/>
<polygon points="424.00,455.30 424.00,468.10 436.80,468.10" fill="#F50A82"/>
<polygon points="442.00,471.90 442.00,484.70 454.80,484.70" fill="#F50A82"/>
<polygon points="460.00,484.40 460.00,497.20 472.80,497.20" fill="#F50A82"/>
<polygon points="478.00,487.80 478.00,500.60 490.80,500.60" fill="#F50A82"/>
<polygon points="496.00,496.90 496.00,509.70 508.80,509.70" fill="#F50A82"/>
<polygon points="514.00,503.60 514.00,516.40 526.80,516.40" fill="#F50A82"/>
<polygon points="532.00,510.30 532.00,523.10 544.80,523.10" fill="#F50A82"/>
<polygon points="550.00,511.90 550.00,524.70 562.80,524.70" fill="#F50A82"/>
<polygon points="568.00,520.30 568.00,533.10 580.80,533.10" fill="#F50A82"/>
<polygon points="586.00,526.90 586.00,539.70 598.80,539.70" fill="#F50A82"/>
<polygon points="604.00,523.60 604.00,536.40 616.80,536.40" fill="#F50A82"/>
<polygon points="622.00,530.30 622.00,543.10 634.80,543.10" fill="#F50A82"/>
<polyline points="113.30,210.80 117.80,223.40 122.30,298.30 126.80,325.00 131.30,338.30 135.80,346.70 140.30,353.95 144.80,355.62 149.30,359.58 153.80,362.44 158.30,365.47 162.80,367.62 167.30,368.22 171.80,368.61 176.30,367.99 180.80,366.59 185.30,365.78 189.80,366.55 194.30,366.78 198.80,366.53 203.30,366.86 207.80,367.36 212.30,367.40 216.80,366.36 221.30,364.90 225.80,364.25 230.30,363.77 234.80,362.82 239.30,361.47 243.80,358.45 248.30,357.84 252.80,357.73 257.30,356.36 261.80,355.21 266.30,354.98 270.80,355.63 275.30,356.83 279.80,356.66 284.30,356.88 288.80,359.08 293.30,359.08 297.80,359.72 302.30,363.62 320.30,385.09 338.30,402.55 356.30,420.02 374.30,437.68 392.30,453.00 410.30,468.50 428.30,480.68 446.30,491.68 464.30,499.18 482.30,505.68 500.30,509.50 518.30,514.32 536.30,516.98 554.30,521.48 572.30,523.98 590.30,527.16 608.30,528.12 626.30,530.00" fill="none" stroke="#E00808" stroke-width="1.1" stroke-linejoin="round" stroke-linecap="butt"/>
<polygon points="117.60,204.40 117.60,217.20 104.80,217.20" fill="#E00808"/>
<polygon points="122.10,217.00 122.10,229.80 109.30,229.80" fill="#E00808"/>
<polygon points="126.60,291.90 126.60,304.70 113.80,304.70" fill="#E00808"/>
<polygon points="131.10,318.60 131.10,331.40 118.30,331.40" fill="#E00808"/>
<polygon points="135.60,331.90 135.60,344.70 122.80,344.70" fill="#E00808"/>
<polygon points="140.10,340.30 140.10,353.10 127.30,353.10" fill="#E00808"/>
<polygon points="144.60,346.60 144.60,359.40 131.80,359.40" fill="#E00808"/>
<polygon points="149.10,350.60 149.10,363.40 136.30,363.40" fill="#E00808"/>
<polygon points="153.60,352.71 153.60,365.51 140.80,365.51" fill="#E00808"/>
<polygon points="158.10,355.90 158.10,368.70 145.30,368.70" fill="#E00808"/>
<polygon points="162.60,360.10 162.60,372.90 149.80,372.90" fill="#E00808"/>
<polygon points="167.10,360.89 167.10,373.69 154.30,373.69" fill="#E00808"/>
<polygon points="171.60,365.73 171.60,378.53 158.80,378.53" fill="#E00808"/>
<polygon points="176.10,363.50 176.10,376.30 163.30,376.30" fill="#E00808"/>
<polygon points="180.60,358.89 180.60,371.69 167.80,371.69" fill="#E00808"/>
<polygon points="185.10,362.02 185.10,374.82 172.30,374.82" fill="#E00808"/>
<polygon points="189.60,357.82 189.60,370.62 176.80,370.62" fill="#E00808"/>
<polygon points="194.10,358.73 194.10,371.53 181.30,371.53" fill="#E00808"/>
<polygon points="198.60,359.44 198.60,372.24 185.80,372.24" fill="#E00808"/>
<polygon points="203.10,362.73 203.10,375.53 190.30,375.53" fill="#E00808"/>
<polygon points="207.60,362.70 207.60,375.50 194.80,375.50" fill="#E00808"/>
<polygon points="212.10,359.24 212.10,372.04 199.30,372.04" fill="#E00808"/>
<polygon points="216.60,360.23 216.60,373.03 203.80,373.03" fill="#E00808"/>
<polygon points="221.10,360.18 221.10,372.98 208.30,372.98" fill="#E00808"/>
<polygon points="225.60,362.20 225.60,375.00 212.80,375.00" fill="#E00808"/>
<polygon points="230.10,359.70 230.10,372.50 217.30,372.50" fill="#E00808"/>
<polygon points="234.60,355.47 234.60,368.27 221.80,368.27" fill="#E00808"/>
<polygon points="239.10,352.48 239.10,365.28 226.30,365.28" fill="#E00808"/>
<polygon points="243.60,354.69 243.60,367.49 230.80,367.49" fill="#E00808"/>
<polygon points="248.10,356.90 248.10,369.70 235.30,369.70" fill="#E00808"/>
<polygon points="252.60,353.49 252.60,366.29 239.80,366.29" fill="#E00808"/>
<polygon points="257.10,352.73 257.10,365.53 244.30,365.53" fill="#E00808"/>
<polygon points="261.60,338.60 261.60,351.40 248.80,351.40" fill="#E00808"/>
<polygon points="266.10,351.19 266.10,363.99 253.30,363.99" fill="#E00808"/>
<polygon points="270.60,351.74 270.60,364.54 257.80,364.54" fill="#E00808"/>
<polygon points="275.10,345.10 275.10,357.90 262.30,357.90" fill="#E00808"/>
<polygon points="279.60,348.81 279.60,361.61 266.80,361.61" fill="#E00808"/>
<polygon points="284.10,351.88 284.10,364.68 271.30,364.68" fill="#E00808"/>
<polygon points="288.60,357.30 288.60,370.10 275.80,370.10" fill="#E00808"/>
<polygon points="293.10,346.98 293.10,359.78 280.30,359.78" fill="#E00808"/>
<polygon points="297.60,350.02 297.60,362.82 284.80,362.82" fill="#E00808"/>
<polygon points="302.10,353.26 302.10,366.06 289.30,366.06" fill="#E00808"/>
<polygon points="306.60,360.47 306.60,373.27 293.80,373.27" fill="#E00808"/>
<polygon points="324.60,375.30 324.60,388.10 311.80,388.10" fill="#E00808"/>
<polygon points="342.60,400.30 342.60,413.10 329.80,413.10" fill="#E00808"/>
<polygon points="360.60,412.80 360.60,425.60 347.80,425.60" fill="#E00808"/>
<polygon points="378.60,431.90 378.60,444.70 365.80,444.70" fill="#E00808"/>
<polygon points="396.60,447.80 396.60,460.60 383.80,460.60" fill="#E00808"/>
<polygon points="414.60,463.60 414.60,476.40 401.80,476.40" fill="#E00808"/>
<polygon points="432.60,476.90 432.60,489.70 419.80,489.70" fill="#E00808"/>
<polygon points="450.60,490.30 450.60,503.10 437.80,503.10" fill="#E00808"/>
<polygon points="468.60,492.80 468.60,505.60 455.80,505.60" fill="#E00808"/>
<polygon points="486.60,502.80 486.60,515.60 473.80,515.60" fill="#E00808"/>
<polygon points="504.60,501.10 504.60,513.90 491.80,513.90" fill="#E00808"/>
<polygon points="522.60,509.40 522.60,522.20 509.80,522.20" fill="#E00808"/>
<polygon points="540.60,509.40 540.60,522.20 527.80,522.20" fill="#E00808"/>
<polygon points="558.60,516.90 558.60,529.70 545.80,529.70" fill="#E00808"/>
<polygon points="576.60,516.10 576.60,528.90 563.80,528.90" fill="#E00808"/>
<polygon points="594.60,523.60 594.60,536.40 581.80,536.40" fill="#E00808"/>
<polygon points="612.60,521.90 612.60,534.70 599.80,534.70" fill="#E00808"/>
<polygon points="630.60,525.30 630.60,538.10 617.80,538.10" fill="#E00808"/>
<polyline points="113.30,193.50 117.80,199.20 122.30,236.40 126.80,268.30 131.30,303.80 135.80,345.00 140.30,364.38 144.80,369.90 149.30,379.70 153.80,387.04 158.30,392.64 162.80,394.50 167.30,395.30 171.80,398.66 176.30,403.96 180.80,411.42 185.30,419.67 189.80,429.15 194.30,432.81 198.80,438.03 203.30,442.32 207.80,445.92 212.30,448.86 216.80,451.73 221.30,455.23 225.80,459.47 230.30,463.49 234.80,467.45 239.30,471.32 243.80,475.43 248.30,479.10 252.80,483.17 257.30,486.96 261.80,490.53 266.30,493.96 270.80,496.99 275.30,501.23 279.80,505.03 284.30,508.17 288.80,510.28 293.30,510.28 297.80,511.91 302.30,514.81 320.30,520.03 338.30,524.48 356.30,528.98 374.30,533.16 392.30,535.62 410.30,538.92 428.30,539.00 446.30,539.60 464.30,539.54 482.30,541.60 500.30,541.34 518.30,541.96 536.30,542.78 554.30,543.36 572.30,542.36 590.30,542.80 608.30,543.55 626.30,543.37" fill="none" stroke="#7D0606" stroke-width="1.1" stroke-linejoin="round" stroke-linecap="butt"/>
<polygon points="113.30,186.50 120.30,193.50 113.30,200.50 106.30,193.50" fill="#7D0606"/>
<polygon points="117.80,192.20 124.80,199.20 117.80,206.20 110.80,199.20" fill="#7D0606"/>
<polygon points="122.30,229.40 129.30,236.40 122.30,243.40 115.30,236.40" fill="#7D0606"/>
<polygon points="126.80,261.30 133.80,268.30 126.80,275.30 119.80,268.30" fill="#7D0606"/>
<polygon points="131.30,296.80 138.30,303.80 131.30,310.80 124.30,303.80" fill="#7D0606"/>
<polygon points="135.80,338.00 142.80,345.00 135.80,352.00 128.80,345.00" fill="#7D0606"/>
<polygon points="140.30,351.30 147.30,358.30 140.30,365.30 133.30,358.30" fill="#7D0606"/>
<polygon points="144.80,360.50 151.80,367.50 144.80,374.50 137.80,367.50" fill="#7D0606"/>
<polygon points="149.30,379.70 156.30,386.70 149.30,393.70 142.30,386.70" fill="#7D0606"/>
<polygon points="153.80,385.00 160.80,392.00 153.80,399.00 146.80,392.00" fill="#7D0606"/>
<polygon points="158.30,387.00 165.30,394.00 158.30,401.00 151.30,394.00" fill="#7D0606"/>
<polygon points="162.80,388.00 169.80,395.00 162.80,402.00 155.80,395.00" fill="#7D0606"/>
<polygon points="167.30,388.50 174.30,395.50 167.30,402.50 160.30,395.50" fill="#7D0606"/>
<polygon points="171.80,389.00 178.80,396.00 171.80,403.00 164.80,396.00" fill="#7D0606"/>
<polygon points="176.30,389.00 183.30,396.00 176.30,403.00 169.30,396.00" fill="#7D0606"/>
<polygon points="180.80,403.80 187.80,410.80 180.80,417.80 173.80,410.80" fill="#7D0606"/>
<polygon points="185.30,414.50 192.30,421.50 185.30,428.50 178.30,421.50" fill="#7D0606"/>
<polygon points="189.80,425.81 196.80,432.81 189.80,439.81 182.80,432.81" fill="#7D0606"/>
<polygon points="194.30,430.26 201.30,437.26 194.30,444.26 187.30,437.26" fill="#7D0606"/>
<polygon points="198.80,436.40 205.80,443.40 198.80,450.40 191.80,443.40" fill="#7D0606"/>
<polygon points="203.30,433.38 210.30,440.38 203.30,447.38 196.30,440.38" fill="#7D0606"/>
<polygon points="207.80,436.54 214.80,443.54 207.80,450.54 200.80,443.54" fill="#7D0606"/>
<polygon points="212.30,440.33 219.30,447.33 212.30,454.33 205.30,447.33" fill="#7D0606"/>
<polygon points="216.80,444.52 223.80,451.52 216.80,458.52 209.80,451.52" fill="#7D0606"/>
<polygon points="221.30,451.02 228.30,458.02 221.30,465.02 214.30,458.02" fill="#7D0606"/>
<polygon points="225.80,450.82 232.80,457.82 225.80,464.82 218.80,457.82" fill="#7D0606"/>
<polygon points="230.30,456.47 237.30,463.47 230.30,470.47 223.30,463.47" fill="#7D0606"/>
<polygon points="234.80,457.94 241.80,464.94 234.80,471.94 227.80,464.94" fill="#7D0606"/>
<polygon points="239.30,466.16 246.30,473.16 239.30,480.16 232.30,473.16" fill="#7D0606"/>
<polygon points="243.80,468.54 250.80,475.54 243.80,482.54 236.80,475.54" fill="#7D0606"/>
<polygon points="248.30,472.19 255.30,479.19 248.30,486.19 241.30,479.19" fill="#7D0606"/>
<polygon points="252.80,478.13 259.80,485.13 252.80,492.13 245.80,485.13" fill="#7D0606"/>
<polygon points="257.30,479.56 264.30,486.56 257.30,493.56 250.30,486.56" fill="#7D0606"/>
<polygon points="261.80,482.19 268.80,489.19 261.80,496.19 254.80,489.19" fill="#7D0606"/>
<polygon points="266.30,486.41 273.30,493.41 266.30,500.41 259.30,493.41" fill="#7D0606"/>
<polygon points="270.80,492.70 277.80,499.70 270.80,506.70 263.80,499.70" fill="#7D0606"/>
<polygon points="275.30,493.49 282.30,500.49 275.30,507.49 268.30,500.49" fill="#7D0606"/>
<polygon points="279.80,496.25 286.80,503.25 279.80,510.25 272.80,503.25" fill="#7D0606"/>
<polygon points="284.30,499.30 291.30,506.30 284.30,513.30 277.30,506.30" fill="#7D0606"/>
<polygon points="288.80,509.24 295.80,516.24 288.80,523.24 281.80,516.24" fill="#7D0606"/>
<polygon points="293.30,508.82 300.30,515.82 293.30,522.82 286.30,515.82" fill="#7D0606"/>
<polygon points="297.80,508.37 304.80,515.37 297.80,522.37 290.80,515.37" fill="#7D0606"/>
<polygon points="302.30,507.50 309.30,514.50 302.30,521.50 295.30,514.50" fill="#7D0606"/>
<polygon points="320.30,513.60 327.30,520.60 320.30,527.60 313.30,520.60" fill="#7D0606"/>
<polygon points="338.30,518.00 345.30,525.00 338.30,532.00 331.30,525.00" fill="#7D0606"/>
<polygon points="356.30,519.00 363.30,526.00 356.30,533.00 349.30,526.00" fill="#7D0606"/>
<polygon points="374.30,529.30 381.30,536.30 374.30,543.30 367.30,536.30" fill="#7D0606"/>
<polygon points="392.30,530.00 399.30,537.00 392.30,544.00 385.30,537.00" fill="#7D0606"/>
<polygon points="410.30,534.50 417.30,541.50 410.30,548.50 403.30,541.50" fill="#7D0606"/>
<polygon points="428.30,530.30 435.30,537.30 428.30,544.30 421.30,537.30" fill="#7D0606"/>
<polygon points="446.30,535.50 453.30,542.50 446.30,549.50 439.30,542.50" fill="#7D0606"/>
<polygon points="464.30,529.70 471.30,536.70 464.30,543.70 457.30,536.70" fill="#7D0606"/>
<polygon points="482.30,533.00 489.30,540.00 482.30,547.00 475.30,540.00" fill="#7D0606"/>
<polygon points="500.30,534.20 507.30,541.20 500.30,548.20 493.30,541.20" fill="#7D0606"/>
<polygon points="518.30,540.60 525.30,547.60 518.30,554.60 511.30,547.60" fill="#7D0606"/>
<polygon points="536.30,534.20 543.30,541.20 536.30,548.20 529.30,541.20" fill="#7D0606"/>
<polygon points="554.30,532.80 561.30,539.80 554.30,546.80 547.30,539.80" fill="#7D0606"/>
<polygon points="572.30,537.10 579.30,544.10 572.30,551.10 565.30,544.10" fill="#7D0606"/>
<polygon points="590.30,537.10 597.30,544.10 590.30,551.10 583.30,544.10" fill="#7D0606"/>
<polygon points="608.30,535.60 615.30,542.60 608.30,549.60 601.30,542.60" fill="#7D0606"/>
<polygon points="626.30,536.40 633.30,543.40 626.30,550.40 619.30,543.40" fill="#7D0606"/>
<polyline points="216.70,177.50 199.20,177.50 185.00,251.70" fill="none" stroke="#A01EDC" stroke-width="1.9" stroke-linejoin="miter" stroke-linecap="butt"/>
<text transform="translate(217.50,189.00) scale(0.945,1)" font-size="31.3" text-anchor="start" fill="#A01EDC" stroke="#A01EDC" >1200<tspan font-size="20.97" dy="-11.27" stroke="#A01EDC" stroke-width="0.5">o</tspan><tspan dy="11.27">C</tspan></text>
<polyline points="251.70,210.80 234.20,210.80 190.50,282.00" fill="none" stroke="#5A1ADC" stroke-width="1.9" stroke-linejoin="miter" stroke-linecap="butt"/>
<text transform="translate(255.80,222.30) scale(0.945,1)" font-size="31.3" text-anchor="start" fill="#5A1ADC" stroke="#5A1ADC" >1000<tspan font-size="20.97" dy="-11.27" stroke="#5A1ADC" stroke-width="0.5">o</tspan><tspan dy="11.27">C</tspan></text>
<polyline points="220.80,402.50 201.70,402.50 176.00,318.00" fill="none" stroke="#F50A82" stroke-width="1.9" stroke-linejoin="miter" stroke-linecap="butt"/>
<text transform="translate(219.60,415.20) scale(0.945,1)" font-size="31.3" text-anchor="start" fill="#F50A82" stroke="#F50A82" >1400<tspan font-size="20.97" dy="-11.27" stroke="#F50A82" stroke-width="0.5">o</tspan><tspan dy="11.27">C</tspan></text>
<line x1="413.30" y1="375.80" x2="396.70" y2="390.80" stroke="#0000D2" stroke-width="2.4" stroke-linecap="butt"/>
<text transform="translate(419.00,382.20) scale(0.969,1)" font-size="31.3" text-anchor="start" fill="#0000D2" stroke="#0000D2" >As-implaned</text>
<line x1="375.00" y1="438.30" x2="353.30" y2="460.00" stroke="#E00808" stroke-width="2.4" stroke-linecap="butt"/>
<text transform="translate(294.50,490.80) scale(0.945,1)" font-size="31.3" text-anchor="start" fill="#E00808" stroke="#E00808" >1600<tspan font-size="20.97" dy="-11.27" stroke="#E00808" stroke-width="0.5">o</tspan><tspan dy="11.27">C</tspan></text>
<line x1="352.20" y1="530.60" x2="334.40" y2="546.70" stroke="#7D0606" stroke-width="2.4" stroke-linecap="butt"/>
<text transform="translate(297.20,576.10) scale(0.945,1)" font-size="31.3" text-anchor="start" fill="#7D0606" stroke="#7D0606" >1700<tspan font-size="20.97" dy="-11.27" stroke="#7D0606" stroke-width="0.5">o</tspan><tspan dy="11.27">C</tspan></text>
<line x1="837.02" y1="608.90" x2="837.02" y2="600.30" stroke="#000" stroke-width="1.7" stroke-linecap="butt"/>
<line x1="837.02" y1="68.25" x2="837.02" y2="76.85" stroke="#000" stroke-width="1.7" stroke-linecap="butt"/>
<line x1="863.99" y1="608.90" x2="863.99" y2="600.30" stroke="#000" stroke-width="1.7" stroke-linecap="butt"/>
<line x1="863.99" y1="68.25" x2="863.99" y2="76.85" stroke="#000" stroke-width="1.7" stroke-linecap="butt"/>
<line x1="890.95" y1="608.90" x2="890.95" y2="600.30" stroke="#000" stroke-width="1.7" stroke-linecap="butt"/>
<line x1="890.95" y1="68.25" x2="890.95" y2="76.85" stroke="#000" stroke-width="1.7" stroke-linecap="butt"/>
<line x1="917.92" y1="608.90" x2="917.92" y2="596.20" stroke="#000" stroke-width="1.7" stroke-linecap="butt"/>
<line x1="917.92" y1="68.25" x2="917.92" y2="80.95" stroke="#000" stroke-width="1.7" stroke-linecap="butt"/>
<line x1="944.89" y1="608.90" x2="944.89" y2="600.30" stroke="#000" stroke-width="1.7" stroke-linecap="butt"/>
<line x1="944.89" y1="68.25" x2="944.89" y2="76.85" stroke="#000" stroke-width="1.7" stroke-linecap="butt"/>
<line x1="971.86" y1="608.90" x2="971.86" y2="600.30" stroke="#000" stroke-width="1.7" stroke-linecap="butt"/>
<line x1="971.86" y1="68.25" x2="971.86" y2="76.85" stroke="#000" stroke-width="1.7" stroke-linecap="butt"/>
<line x1="998.82" y1="608.90" x2="998.82" y2="600.30" stroke="#000" stroke-width="1.7" stroke-linecap="butt"/>
<line x1="998.82" y1="68.25" x2="998.82" y2="76.85" stroke="#000" stroke-width="1.7" stroke-linecap="butt"/>
<line x1="1025.79" y1="608.90" x2="1025.79" y2="596.20" stroke="#000" stroke-width="1.7" stroke-linecap="butt"/>
<line x1="1025.79" y1="68.25" x2="1025.79" y2="80.95" stroke="#000" stroke-width="1.7" stroke-linecap="butt"/>
<line x1="1052.76" y1="608.90" x2="1052.76" y2="600.30" stroke="#000" stroke-width="1.7" stroke-linecap="butt"/>
<line x1="1052.76" y1="68.25" x2="1052.76" y2="76.85" stroke="#000" stroke-width="1.7" stroke-linecap="butt"/>
<line x1="1079.72" y1="608.90" x2="1079.72" y2="600.30" stroke="#000" stroke-width="1.7" stroke-linecap="butt"/>
<line x1="1079.72" y1="68.25" x2="1079.72" y2="76.85" stroke="#000" stroke-width="1.7" stroke-linecap="butt"/>
<line x1="1106.69" y1="608.90" x2="1106.69" y2="600.30" stroke="#000" stroke-width="1.7" stroke-linecap="butt"/>
<line x1="1106.69" y1="68.25" x2="1106.69" y2="76.85" stroke="#000" stroke-width="1.7" stroke-linecap="butt"/>
<line x1="1133.66" y1="608.90" x2="1133.66" y2="596.20" stroke="#000" stroke-width="1.7" stroke-linecap="butt"/>
<line x1="1133.66" y1="68.25" x2="1133.66" y2="80.95" stroke="#000" stroke-width="1.7" stroke-linecap="butt"/>
<line x1="1160.63" y1="608.90" x2="1160.63" y2="600.30" stroke="#000" stroke-width="1.7" stroke-linecap="butt"/>
<line x1="1160.63" y1="68.25" x2="1160.63" y2="76.85" stroke="#000" stroke-width="1.7" stroke-linecap="butt"/>
<line x1="1187.60" y1="608.90" x2="1187.60" y2="600.30" stroke="#000" stroke-width="1.7" stroke-linecap="butt"/>
<line x1="1187.60" y1="68.25" x2="1187.60" y2="76.85" stroke="#000" stroke-width="1.7" stroke-linecap="butt"/>
<line x1="1214.56" y1="608.90" x2="1214.56" y2="600.30" stroke="#000" stroke-width="1.7" stroke-linecap="butt"/>
<line x1="1214.56" y1="68.25" x2="1214.56" y2="76.85" stroke="#000" stroke-width="1.7" stroke-linecap="butt"/>
<line x1="1241.53" y1="608.90" x2="1241.53" y2="596.20" stroke="#000" stroke-width="1.7" stroke-linecap="butt"/>
<line x1="1241.53" y1="68.25" x2="1241.53" y2="80.95" stroke="#000" stroke-width="1.7" stroke-linecap="butt"/>
<line x1="1268.50" y1="608.90" x2="1268.50" y2="600.30" stroke="#000" stroke-width="1.7" stroke-linecap="butt"/>
<line x1="1268.50" y1="68.25" x2="1268.50" y2="76.85" stroke="#000" stroke-width="1.7" stroke-linecap="butt"/>
<line x1="1295.47" y1="608.90" x2="1295.47" y2="600.30" stroke="#000" stroke-width="1.7" stroke-linecap="butt"/>
<line x1="1295.47" y1="68.25" x2="1295.47" y2="76.85" stroke="#000" stroke-width="1.7" stroke-linecap="butt"/>
<line x1="1322.43" y1="608.90" x2="1322.43" y2="600.30" stroke="#000" stroke-width="1.7" stroke-linecap="butt"/>
<line x1="1322.43" y1="68.25" x2="1322.43" y2="76.85" stroke="#000" stroke-width="1.7" stroke-linecap="butt"/>
<line x1="810.05" y1="590.58" x2="818.65" y2="590.58" stroke="#000" stroke-width="1.7" stroke-linecap="butt"/>
<line x1="1349.40" y1="590.58" x2="1340.80" y2="590.58" stroke="#000" stroke-width="1.7" stroke-linecap="butt"/>
<line x1="810.05" y1="572.56" x2="818.65" y2="572.56" stroke="#000" stroke-width="1.7" stroke-linecap="butt"/>
<line x1="1349.40" y1="572.56" x2="1340.80" y2="572.56" stroke="#000" stroke-width="1.7" stroke-linecap="butt"/>
<line x1="810.05" y1="554.53" x2="818.65" y2="554.53" stroke="#000" stroke-width="1.7" stroke-linecap="butt"/>
<line x1="1349.40" y1="554.53" x2="1340.80" y2="554.53" stroke="#000" stroke-width="1.7" stroke-linecap="butt"/>
<line x1="810.05" y1="536.51" x2="818.65" y2="536.51" stroke="#000" stroke-width="1.7" stroke-linecap="butt"/>
<line x1="1349.40" y1="536.51" x2="1340.80" y2="536.51" stroke="#000" stroke-width="1.7" stroke-linecap="butt"/>
<line x1="810.05" y1="517.29" x2="822.75" y2="517.29" stroke="#000" stroke-width="1.7" stroke-linecap="butt"/>
<line x1="1349.40" y1="517.29" x2="1336.70" y2="517.29" stroke="#000" stroke-width="1.7" stroke-linecap="butt"/>
<line x1="810.05" y1="500.47" x2="818.65" y2="500.47" stroke="#000" stroke-width="1.7" stroke-linecap="butt"/>
<line x1="1349.40" y1="500.47" x2="1340.80" y2="500.47" stroke="#000" stroke-width="1.7" stroke-linecap="butt"/>
<line x1="810.05" y1="482.45" x2="818.65" y2="482.45" stroke="#000" stroke-width="1.7" stroke-linecap="butt"/>
<line x1="1349.40" y1="482.45" x2="1340.80" y2="482.45" stroke="#000" stroke-width="1.7" stroke-linecap="butt"/>
<line x1="810.05" y1="464.43" x2="818.65" y2="464.43" stroke="#000" stroke-width="1.7" stroke-linecap="butt"/>
<line x1="1349.40" y1="464.43" x2="1340.80" y2="464.43" stroke="#000" stroke-width="1.7" stroke-linecap="butt"/>
<line x1="810.05" y1="446.40" x2="818.65" y2="446.40" stroke="#000" stroke-width="1.7" stroke-linecap="butt"/>
<line x1="1349.40" y1="446.40" x2="1340.80" y2="446.40" stroke="#000" stroke-width="1.7" stroke-linecap="butt"/>
<line x1="810.05" y1="427.18" x2="822.75" y2="427.18" stroke="#000" stroke-width="1.7" stroke-linecap="butt"/>
<line x1="1349.40" y1="427.18" x2="1336.70" y2="427.18" stroke="#000" stroke-width="1.7" stroke-linecap="butt"/>
<line x1="810.05" y1="410.36" x2="818.65" y2="410.36" stroke="#000" stroke-width="1.7" stroke-linecap="butt"/>
<line x1="1349.40" y1="410.36" x2="1340.80" y2="410.36" stroke="#000" stroke-width="1.7" stroke-linecap="butt"/>
<line x1="810.05" y1="392.34" x2="818.65" y2="392.34" stroke="#000" stroke-width="1.7" stroke-linecap="butt"/>
<line x1="1349.40" y1="392.34" x2="1340.80" y2="392.34" stroke="#000" stroke-width="1.7" stroke-linecap="butt"/>
<line x1="810.05" y1="374.32" x2="818.65" y2="374.32" stroke="#000" stroke-width="1.7" stroke-linecap="butt"/>
<line x1="1349.40" y1="374.32" x2="1340.80" y2="374.32" stroke="#000" stroke-width="1.7" stroke-linecap="butt"/>
<line x1="810.05" y1="356.30" x2="818.65" y2="356.30" stroke="#000" stroke-width="1.7" stroke-linecap="butt"/>
<line x1="1349.40" y1="356.30" x2="1340.80" y2="356.30" stroke="#000" stroke-width="1.7" stroke-linecap="butt"/>
<line x1="810.05" y1="337.08" x2="822.75" y2="337.08" stroke="#000" stroke-width="1.7" stroke-linecap="butt"/>
<line x1="1349.40" y1="337.08" x2="1336.70" y2="337.08" stroke="#000" stroke-width="1.7" stroke-linecap="butt"/>
<line x1="810.05" y1="320.25" x2="818.65" y2="320.25" stroke="#000" stroke-width="1.7" stroke-linecap="butt"/>
<line x1="1349.40" y1="320.25" x2="1340.80" y2="320.25" stroke="#000" stroke-width="1.7" stroke-linecap="butt"/>
<line x1="810.05" y1="302.23" x2="818.65" y2="302.23" stroke="#000" stroke-width="1.7" stroke-linecap="butt"/>
<line x1="1349.40" y1="302.23" x2="1340.80" y2="302.23" stroke="#000" stroke-width="1.7" stroke-linecap="butt"/>
<line x1="810.05" y1="284.21" x2="818.65" y2="284.21" stroke="#000" stroke-width="1.7" stroke-linecap="butt"/>
<line x1="1349.40" y1="284.21" x2="1340.80" y2="284.21" stroke="#000" stroke-width="1.7" stroke-linecap="butt"/>
<line x1="810.05" y1="266.19" x2="818.65" y2="266.19" stroke="#000" stroke-width="1.7" stroke-linecap="butt"/>
<line x1="1349.40" y1="266.19" x2="1340.80" y2="266.19" stroke="#000" stroke-width="1.7" stroke-linecap="butt"/>
<line x1="810.05" y1="246.97" x2="822.75" y2="246.97" stroke="#000" stroke-width="1.7" stroke-linecap="butt"/>
<line x1="1349.40" y1="246.97" x2="1336.70" y2="246.97" stroke="#000" stroke-width="1.7" stroke-linecap="butt"/>
<line x1="810.05" y1="230.15" x2="818.65" y2="230.15" stroke="#000" stroke-width="1.7" stroke-linecap="butt"/>
<line x1="1349.40" y1="230.15" x2="1340.80" y2="230.15" stroke="#000" stroke-width="1.7" stroke-linecap="butt"/>
<line x1="810.05" y1="212.12" x2="818.65" y2="212.12" stroke="#000" stroke-width="1.7" stroke-linecap="butt"/>
<line x1="1349.40" y1="212.12" x2="1340.80" y2="212.12" stroke="#000" stroke-width="1.7" stroke-linecap="butt"/>
<line x1="810.05" y1="194.10" x2="818.65" y2="194.10" stroke="#000" stroke-width="1.7" stroke-linecap="butt"/>
<line x1="1349.40" y1="194.10" x2="1340.80" y2="194.10" stroke="#000" stroke-width="1.7" stroke-linecap="butt"/>
<line x1="810.05" y1="176.08" x2="818.65" y2="176.08" stroke="#000" stroke-width="1.7" stroke-linecap="butt"/>
<line x1="1349.40" y1="176.08" x2="1340.80" y2="176.08" stroke="#000" stroke-width="1.7" stroke-linecap="butt"/>
<line x1="810.05" y1="156.86" x2="822.75" y2="156.86" stroke="#000" stroke-width="1.7" stroke-linecap="butt"/>
<line x1="1349.40" y1="156.86" x2="1336.70" y2="156.86" stroke="#000" stroke-width="1.7" stroke-linecap="butt"/>
<line x1="810.05" y1="140.04" x2="818.65" y2="140.04" stroke="#000" stroke-width="1.7" stroke-linecap="butt"/>
<line x1="1349.40" y1="140.04" x2="1340.80" y2="140.04" stroke="#000" stroke-width="1.7" stroke-linecap="butt"/>
<line x1="810.05" y1="122.02" x2="818.65" y2="122.02" stroke="#000" stroke-width="1.7" stroke-linecap="butt"/>
<line x1="1349.40" y1="122.02" x2="1340.80" y2="122.02" stroke="#000" stroke-width="1.7" stroke-linecap="butt"/>
<line x1="810.05" y1="103.99" x2="818.65" y2="103.99" stroke="#000" stroke-width="1.7" stroke-linecap="butt"/>
<line x1="1349.40" y1="103.99" x2="1340.80" y2="103.99" stroke="#000" stroke-width="1.7" stroke-linecap="butt"/>
<line x1="810.05" y1="85.97" x2="818.65" y2="85.97" stroke="#000" stroke-width="1.7" stroke-linecap="butt"/>
<line x1="1349.40" y1="85.97" x2="1340.80" y2="85.97" stroke="#000" stroke-width="1.7" stroke-linecap="butt"/>
<rect x="810.05" y="68.25" width="539.35" height="540.65" fill="none" stroke="#000" stroke-width="1.9"/>
<text transform="translate(808.60,616.12) scale(0.968,1)" font-size="30.3" text-anchor="end" fill="#000" stroke="#000" >0.44</text>
<text transform="translate(808.60,526.50) scale(0.968,1)" font-size="30.3" text-anchor="end" fill="#000" stroke="#000" >0.45</text>
<text transform="translate(808.60,436.88) scale(0.968,1)" font-size="30.3" text-anchor="end" fill="#000" stroke="#000" >0.46</text>
<text transform="translate(808.60,347.26) scale(0.968,1)" font-size="30.3" text-anchor="end" fill="#000" stroke="#000" >0.47</text>
<text transform="translate(808.60,257.64) scale(0.968,1)" font-size="30.3" text-anchor="end" fill="#000" stroke="#000" >0.48</text>
<text transform="translate(808.60,168.02) scale(0.968,1)" font-size="30.3" text-anchor="end" fill="#000" stroke="#000" >0.49</text>
<text transform="translate(808.60,78.40) scale(0.968,1)" font-size="30.3" text-anchor="end" fill="#000" stroke="#000" >0.50</text>
<text transform="translate(810.05,637.40) scale(0.95,1)" font-size="29.7" text-anchor="middle" fill="#000" stroke="#000" >800</text>
<text transform="translate(917.92,637.40) scale(0.95,1)" font-size="29.7" text-anchor="middle" fill="#000" stroke="#000" >1000</text>
<text transform="translate(1025.79,637.40) scale(0.95,1)" font-size="29.7" text-anchor="middle" fill="#000" stroke="#000" >1200</text>
<text transform="translate(1133.66,637.40) scale(0.95,1)" font-size="29.7" text-anchor="middle" fill="#000" stroke="#000" >1400</text>
<text transform="translate(1241.53,637.40) scale(0.95,1)" font-size="29.7" text-anchor="middle" fill="#000" stroke="#000" >1600</text>
<text transform="translate(1349.40,637.40) scale(0.95,1)" font-size="29.7" text-anchor="middle" fill="#000" stroke="#000" >1800</text>
<text transform="translate(693.80,43.70) scale(0.98,1)" font-size="34.3" text-anchor="start" fill="#000" stroke="#000" >(b)</text>
<text transform="translate(857.50,141.80) scale(0.978,1)" font-size="29.7" text-anchor="start" fill="#000" stroke="#000" >As-implanted</text>
<line x1="872.50" y1="149.50" x2="865.80" y2="195.00" stroke="#000" stroke-width="1.7" stroke-linecap="butt"/>
<text transform="translate(836.50,533.80) scale(0.978,1)" font-size="29.7" text-anchor="start" fill="#000" stroke="#000" >Mg-implanted AlN</text>
<text transform="translate(1082.50,691.80) scale(0.978,1)" font-size="29.7" text-anchor="middle" fill="#000" stroke="#000" >Annealing temperature ( <tspan font-size="19.90" dy="-10.69" stroke="#000" stroke-width="0.5">o</tspan><tspan dy="10.69">C)</tspan></text>
<text transform="translate(727,338) rotate(-90) scale(0.978,1)" font-size="29.7" text-anchor="middle" stroke="#000"><tspan font-style="italic">S</tspan> parameter ( <tspan font-style="italic">E</tspan>=2 keV)</text>
<line x1="864.20" y1="193.50" x2="864.20" y2="207.50" stroke="#0000D2" stroke-width="1.5" stroke-linecap="butt"/>
<line x1="859.70" y1="193.40" x2="868.70" y2="193.40" stroke="#0000D2" stroke-width="1.5" stroke-linecap="butt"/>
<line x1="859.70" y1="207.60" x2="868.70" y2="207.60" stroke="#0000D2" stroke-width="1.5" stroke-linecap="butt"/>
<circle cx="864.20" cy="200.50" r="7.8" fill="#0000D2"/>
<line x1="918.30" y1="264.30" x2="918.30" y2="278.30" stroke="#0000D2" stroke-width="1.5" stroke-linecap="butt"/>
<line x1="913.80" y1="264.20" x2="922.80" y2="264.20" stroke="#0000D2" stroke-width="1.5" stroke-linecap="butt"/>
<line x1="913.80" y1="278.40" x2="922.80" y2="278.40" stroke="#0000D2" stroke-width="1.5" stroke-linecap="butt"/>
<circle cx="918.30" cy="271.30" r="7.8" fill="#0000D2"/>
<line x1="972.80" y1="272.70" x2="972.80" y2="286.70" stroke="#0000D2" stroke-width="1.5" stroke-linecap="butt"/>
<line x1="968.30" y1="272.60" x2="977.30" y2="272.60" stroke="#0000D2" stroke-width="1.5" stroke-linecap="butt"/>
<line x1="968.30" y1="286.80" x2="977.30" y2="286.80" stroke="#0000D2" stroke-width="1.5" stroke-linecap="butt"/>
<circle cx="972.80" cy="279.70" r="7.8" fill="#0000D2"/>
<line x1="1026.70" y1="191.30" x2="1026.70" y2="205.30" stroke="#0000D2" stroke-width="1.5" stroke-linecap="butt"/>
<line x1="1022.20" y1="191.20" x2="1031.20" y2="191.20" stroke="#0000D2" stroke-width="1.5" stroke-linecap="butt"/>
<line x1="1022.20" y1="205.40" x2="1031.20" y2="205.40" stroke="#0000D2" stroke-width="1.5" stroke-linecap="butt"/>
<circle cx="1026.70" cy="198.30" r="7.8" fill="#0000D2"/>
<line x1="1080.80" y1="143.30" x2="1080.80" y2="157.30" stroke="#0000D2" stroke-width="1.5" stroke-linecap="butt"/>
<line x1="1076.30" y1="143.20" x2="1085.30" y2="143.20" stroke="#0000D2" stroke-width="1.5" stroke-linecap="butt"/>
<line x1="1076.30" y1="157.40" x2="1085.30" y2="157.40" stroke="#0000D2" stroke-width="1.5" stroke-linecap="butt"/>
<circle cx="1080.80" cy="150.30" r="7.8" fill="#0000D2"/>
<line x1="1135.30" y1="351.80" x2="1135.30" y2="365.80" stroke="#0000D2" stroke-width="1.5" stroke-linecap="butt"/>
<line x1="1130.80" y1="351.70" x2="1139.80" y2="351.70" stroke="#0000D2" stroke-width="1.5" stroke-linecap="butt"/>
<line x1="1130.80" y1="365.90" x2="1139.80" y2="365.90" stroke="#0000D2" stroke-width="1.5" stroke-linecap="butt"/>
<circle cx="1135.30" cy="358.80" r="7.8" fill="#0000D2"/>
<line x1="1189.20" y1="460.50" x2="1189.20" y2="474.50" stroke="#0000D2" stroke-width="1.5" stroke-linecap="butt"/>
<line x1="1184.70" y1="460.40" x2="1193.70" y2="460.40" stroke="#0000D2" stroke-width="1.5" stroke-linecap="butt"/>
<line x1="1184.70" y1="474.60" x2="1193.70" y2="474.60" stroke="#0000D2" stroke-width="1.5" stroke-linecap="butt"/>
<circle cx="1189.20" cy="467.50" r="7.8" fill="#0000D2"/>
<line x1="1243.70" y1="466.70" x2="1243.70" y2="480.70" stroke="#0000D2" stroke-width="1.5" stroke-linecap="butt"/>
<line x1="1239.20" y1="466.60" x2="1248.20" y2="466.60" stroke="#0000D2" stroke-width="1.5" stroke-linecap="butt"/>
<line x1="1239.20" y1="480.80" x2="1248.20" y2="480.80" stroke="#0000D2" stroke-width="1.5" stroke-linecap="butt"/>
<circle cx="1243.70" cy="473.70" r="7.8" fill="#0000D2"/>
<line x1="1295.80" y1="512.50" x2="1295.80" y2="526.50" stroke="#0000D2" stroke-width="1.5" stroke-linecap="butt"/>
<line x1="1291.30" y1="512.40" x2="1300.30" y2="512.40" stroke="#0000D2" stroke-width="1.5" stroke-linecap="butt"/>
<line x1="1291.30" y1="526.60" x2="1300.30" y2="526.60" stroke="#0000D2" stroke-width="1.5" stroke-linecap="butt"/>
<circle cx="1295.80" cy="519.50" r="7.8" fill="#0000D2"/>
<line x1="1512.77" y1="609.50" x2="1512.77" y2="603.20" stroke="#000" stroke-width="2.5" stroke-linecap="butt"/>
<line x1="1512.77" y1="68.70" x2="1512.77" y2="75.00" stroke="#000" stroke-width="2.5" stroke-linecap="butt"/>
<line x1="1530.78" y1="609.50" x2="1530.78" y2="603.20" stroke="#000" stroke-width="2.5" stroke-linecap="butt"/>
<line x1="1530.78" y1="68.70" x2="1530.78" y2="75.00" stroke="#000" stroke-width="2.5" stroke-linecap="butt"/>
<line x1="1548.80" y1="609.50" x2="1548.80" y2="603.20" stroke="#000" stroke-width="2.5" stroke-linecap="butt"/>
<line x1="1548.80" y1="68.70" x2="1548.80" y2="75.00" stroke="#000" stroke-width="2.5" stroke-linecap="butt"/>
<line x1="1566.81" y1="609.50" x2="1566.81" y2="603.20" stroke="#000" stroke-width="2.5" stroke-linecap="butt"/>
<line x1="1566.81" y1="68.70" x2="1566.81" y2="75.00" stroke="#000" stroke-width="2.5" stroke-linecap="butt"/>
<line x1="1584.83" y1="609.50" x2="1584.83" y2="603.20" stroke="#000" stroke-width="2.5" stroke-linecap="butt"/>
<line x1="1584.83" y1="68.70" x2="1584.83" y2="75.00" stroke="#000" stroke-width="2.5" stroke-linecap="butt"/>
<line x1="1602.84" y1="609.50" x2="1602.84" y2="603.20" stroke="#000" stroke-width="2.5" stroke-linecap="butt"/>
<line x1="1602.84" y1="68.70" x2="1602.84" y2="75.00" stroke="#000" stroke-width="2.5" stroke-linecap="butt"/>
<line x1="1620.86" y1="609.50" x2="1620.86" y2="603.20" stroke="#000" stroke-width="2.5" stroke-linecap="butt"/>
<line x1="1620.86" y1="68.70" x2="1620.86" y2="75.00" stroke="#000" stroke-width="2.5" stroke-linecap="butt"/>
<line x1="1638.87" y1="609.50" x2="1638.87" y2="603.20" stroke="#000" stroke-width="2.5" stroke-linecap="butt"/>
<line x1="1638.87" y1="68.70" x2="1638.87" y2="75.00" stroke="#000" stroke-width="2.5" stroke-linecap="butt"/>
<line x1="1656.88" y1="609.50" x2="1656.88" y2="603.20" stroke="#000" stroke-width="2.5" stroke-linecap="butt"/>
<line x1="1656.88" y1="68.70" x2="1656.88" y2="75.00" stroke="#000" stroke-width="2.5" stroke-linecap="butt"/>
<line x1="1674.90" y1="609.50" x2="1674.90" y2="598.00" stroke="#000" stroke-width="2.5" stroke-linecap="butt"/>
<line x1="1674.90" y1="68.70" x2="1674.90" y2="80.20" stroke="#000" stroke-width="2.5" stroke-linecap="butt"/>
<line x1="1692.91" y1="609.50" x2="1692.91" y2="603.20" stroke="#000" stroke-width="2.5" stroke-linecap="butt"/>
<line x1="1692.91" y1="68.70" x2="1692.91" y2="75.00" stroke="#000" stroke-width="2.5" stroke-linecap="butt"/>
<line x1="1710.93" y1="609.50" x2="1710.93" y2="603.20" stroke="#000" stroke-width="2.5" stroke-linecap="butt"/>
<line x1="1710.93" y1="68.70" x2="1710.93" y2="75.00" stroke="#000" stroke-width="2.5" stroke-linecap="butt"/>
<line x1="1728.95" y1="609.50" x2="1728.95" y2="603.20" stroke="#000" stroke-width="2.5" stroke-linecap="butt"/>
<line x1="1728.95" y1="68.70" x2="1728.95" y2="75.00" stroke="#000" stroke-width="2.5" stroke-linecap="butt"/>
<line x1="1746.96" y1="609.50" x2="1746.96" y2="603.20" stroke="#000" stroke-width="2.5" stroke-linecap="butt"/>
<line x1="1746.96" y1="68.70" x2="1746.96" y2="75.00" stroke="#000" stroke-width="2.5" stroke-linecap="butt"/>
<line x1="1764.97" y1="609.50" x2="1764.97" y2="603.20" stroke="#000" stroke-width="2.5" stroke-linecap="butt"/>
<line x1="1764.97" y1="68.70" x2="1764.97" y2="75.00" stroke="#000" stroke-width="2.5" stroke-linecap="butt"/>
<line x1="1782.99" y1="609.50" x2="1782.99" y2="603.20" stroke="#000" stroke-width="2.5" stroke-linecap="butt"/>
<line x1="1782.99" y1="68.70" x2="1782.99" y2="75.00" stroke="#000" stroke-width="2.5" stroke-linecap="butt"/>
<line x1="1801.01" y1="609.50" x2="1801.01" y2="603.20" stroke="#000" stroke-width="2.5" stroke-linecap="butt"/>
<line x1="1801.01" y1="68.70" x2="1801.01" y2="75.00" stroke="#000" stroke-width="2.5" stroke-linecap="butt"/>
<line x1="1819.02" y1="609.50" x2="1819.02" y2="603.20" stroke="#000" stroke-width="2.5" stroke-linecap="butt"/>
<line x1="1819.02" y1="68.70" x2="1819.02" y2="75.00" stroke="#000" stroke-width="2.5" stroke-linecap="butt"/>
<line x1="1837.04" y1="609.50" x2="1837.04" y2="603.20" stroke="#000" stroke-width="2.5" stroke-linecap="butt"/>
<line x1="1837.04" y1="68.70" x2="1837.04" y2="75.00" stroke="#000" stroke-width="2.5" stroke-linecap="butt"/>
<line x1="1855.05" y1="609.50" x2="1855.05" y2="598.00" stroke="#000" stroke-width="2.5" stroke-linecap="butt"/>
<line x1="1855.05" y1="68.70" x2="1855.05" y2="80.20" stroke="#000" stroke-width="2.5" stroke-linecap="butt"/>
<line x1="1873.07" y1="609.50" x2="1873.07" y2="603.20" stroke="#000" stroke-width="2.5" stroke-linecap="butt"/>
<line x1="1873.07" y1="68.70" x2="1873.07" y2="75.00" stroke="#000" stroke-width="2.5" stroke-linecap="butt"/>
<line x1="1891.08" y1="609.50" x2="1891.08" y2="603.20" stroke="#000" stroke-width="2.5" stroke-linecap="butt"/>
<line x1="1891.08" y1="68.70" x2="1891.08" y2="75.00" stroke="#000" stroke-width="2.5" stroke-linecap="butt"/>
<line x1="1909.10" y1="609.50" x2="1909.10" y2="603.20" stroke="#000" stroke-width="2.5" stroke-linecap="butt"/>
<line x1="1909.10" y1="68.70" x2="1909.10" y2="75.00" stroke="#000" stroke-width="2.5" stroke-linecap="butt"/>
<line x1="1927.11" y1="609.50" x2="1927.11" y2="603.20" stroke="#000" stroke-width="2.5" stroke-linecap="butt"/>
<line x1="1927.11" y1="68.70" x2="1927.11" y2="75.00" stroke="#000" stroke-width="2.5" stroke-linecap="butt"/>
<line x1="1945.12" y1="609.50" x2="1945.12" y2="603.20" stroke="#000" stroke-width="2.5" stroke-linecap="butt"/>
<line x1="1945.12" y1="68.70" x2="1945.12" y2="75.00" stroke="#000" stroke-width="2.5" stroke-linecap="butt"/>
<line x1="1963.14" y1="609.50" x2="1963.14" y2="603.20" stroke="#000" stroke-width="2.5" stroke-linecap="butt"/>
<line x1="1963.14" y1="68.70" x2="1963.14" y2="75.00" stroke="#000" stroke-width="2.5" stroke-linecap="butt"/>
<line x1="1981.16" y1="609.50" x2="1981.16" y2="603.20" stroke="#000" stroke-width="2.5" stroke-linecap="butt"/>
<line x1="1981.16" y1="68.70" x2="1981.16" y2="75.00" stroke="#000" stroke-width="2.5" stroke-linecap="butt"/>
<line x1="1999.17" y1="609.50" x2="1999.17" y2="603.20" stroke="#000" stroke-width="2.5" stroke-linecap="butt"/>
<line x1="1999.17" y1="68.70" x2="1999.17" y2="75.00" stroke="#000" stroke-width="2.5" stroke-linecap="butt"/>
<line x1="2017.18" y1="609.50" x2="2017.18" y2="603.20" stroke="#000" stroke-width="2.5" stroke-linecap="butt"/>
<line x1="2017.18" y1="68.70" x2="2017.18" y2="75.00" stroke="#000" stroke-width="2.5" stroke-linecap="butt"/>
<line x1="1494.75" y1="582.46" x2="1501.05" y2="582.46" stroke="#000" stroke-width="2.5" stroke-linecap="butt"/>
<line x1="2035.20" y1="582.46" x2="2028.90" y2="582.46" stroke="#000" stroke-width="2.5" stroke-linecap="butt"/>
<line x1="1494.75" y1="555.42" x2="1501.05" y2="555.42" stroke="#000" stroke-width="2.5" stroke-linecap="butt"/>
<line x1="2035.20" y1="555.42" x2="2028.90" y2="555.42" stroke="#000" stroke-width="2.5" stroke-linecap="butt"/>
<line x1="1494.75" y1="528.38" x2="1501.05" y2="528.38" stroke="#000" stroke-width="2.5" stroke-linecap="butt"/>
<line x1="2035.20" y1="528.38" x2="2028.90" y2="528.38" stroke="#000" stroke-width="2.5" stroke-linecap="butt"/>
<line x1="1494.75" y1="501.34" x2="1506.25" y2="501.34" stroke="#000" stroke-width="2.9" stroke-linecap="butt"/>
<line x1="2035.20" y1="501.34" x2="2023.70" y2="501.34" stroke="#000" stroke-width="2.9" stroke-linecap="butt"/>
<line x1="1494.75" y1="474.30" x2="1501.05" y2="474.30" stroke="#000" stroke-width="2.5" stroke-linecap="butt"/>
<line x1="2035.20" y1="474.30" x2="2028.90" y2="474.30" stroke="#000" stroke-width="2.5" stroke-linecap="butt"/>
<line x1="1494.75" y1="447.26" x2="1501.05" y2="447.26" stroke="#000" stroke-width="2.5" stroke-linecap="butt"/>
<line x1="2035.20" y1="447.26" x2="2028.90" y2="447.26" stroke="#000" stroke-width="2.5" stroke-linecap="butt"/>
<line x1="1494.75" y1="420.22" x2="1501.05" y2="420.22" stroke="#000" stroke-width="2.5" stroke-linecap="butt"/>
<line x1="2035.20" y1="420.22" x2="2028.90" y2="420.22" stroke="#000" stroke-width="2.5" stroke-linecap="butt"/>
<line x1="1494.75" y1="393.18" x2="1506.25" y2="393.18" stroke="#000" stroke-width="2.9" stroke-linecap="butt"/>
<line x1="2035.20" y1="393.18" x2="2023.70" y2="393.18" stroke="#000" stroke-width="2.9" stroke-linecap="butt"/>
<line x1="1494.75" y1="366.14" x2="1501.05" y2="366.14" stroke="#000" stroke-width="2.5" stroke-linecap="butt"/>
<line x1="2035.20" y1="366.14" x2="2028.90" y2="366.14" stroke="#000" stroke-width="2.5" stroke-linecap="butt"/>
<line x1="1494.75" y1="339.10" x2="1501.05" y2="339.10" stroke="#000" stroke-width="2.5" stroke-linecap="butt"/>
<line x1="2035.20" y1="339.10" x2="2028.90" y2="339.10" stroke="#000" stroke-width="2.5" stroke-linecap="butt"/>
<line x1="1494.75" y1="312.06" x2="1501.05" y2="312.06" stroke="#000" stroke-width="2.5" stroke-linecap="butt"/>
<line x1="2035.20" y1="312.06" x2="2028.90" y2="312.06" stroke="#000" stroke-width="2.5" stroke-linecap="butt"/>
<line x1="1494.75" y1="285.02" x2="1506.25" y2="285.02" stroke="#000" stroke-width="2.9" stroke-linecap="butt"/>
<line x1="2035.20" y1="285.02" x2="2023.70" y2="285.02" stroke="#000" stroke-width="2.9" stroke-linecap="butt"/>
<line x1="1494.75" y1="257.98" x2="1501.05" y2="257.98" stroke="#000" stroke-width="2.5" stroke-linecap="butt"/>
<line x1="2035.20" y1="257.98" x2="2028.90" y2="257.98" stroke="#000" stroke-width="2.5" stroke-linecap="butt"/>
<line x1="1494.75" y1="230.94" x2="1501.05" y2="230.94" stroke="#000" stroke-width="2.5" stroke-linecap="butt"/>
<line x1="2035.20" y1="230.94" x2="2028.90" y2="230.94" stroke="#000" stroke-width="2.5" stroke-linecap="butt"/>
<line x1="1494.75" y1="203.90" x2="1501.05" y2="203.90" stroke="#000" stroke-width="2.5" stroke-linecap="butt"/>
<line x1="2035.20" y1="203.90" x2="2028.90" y2="203.90" stroke="#000" stroke-width="2.5" stroke-linecap="butt"/>
<line x1="1494.75" y1="176.86" x2="1506.25" y2="176.86" stroke="#000" stroke-width="2.9" stroke-linecap="butt"/>
<line x1="2035.20" y1="176.86" x2="2023.70" y2="176.86" stroke="#000" stroke-width="2.9" stroke-linecap="butt"/>
<line x1="1494.75" y1="149.82" x2="1501.05" y2="149.82" stroke="#000" stroke-width="2.5" stroke-linecap="butt"/>
<line x1="2035.20" y1="149.82" x2="2028.90" y2="149.82" stroke="#000" stroke-width="2.5" stroke-linecap="butt"/>
<line x1="1494.75" y1="122.78" x2="1501.05" y2="122.78" stroke="#000" stroke-width="2.5" stroke-linecap="butt"/>
<line x1="2035.20" y1="122.78" x2="2028.90" y2="122.78" stroke="#000" stroke-width="2.5" stroke-linecap="butt"/>
<line x1="1494.75" y1="95.74" x2="1501.05" y2="95.74" stroke="#000" stroke-width="2.5" stroke-linecap="butt"/>
<line x1="2035.20" y1="95.74" x2="2028.90" y2="95.74" stroke="#000" stroke-width="2.5" stroke-linecap="butt"/>
<polyline points="1491.30,156.20 1602.50,156.20 1602.50,202.80 1831.70,202.80 1831.70,534.50 2037.50,534.50" fill="none" stroke="#0000D2" stroke-width="6.0" stroke-linejoin="miter" stroke-linecap="butt"/>
<polyline points="1491.30,187.80 1525.50,187.80 1525.50,267.50 1810.30,267.50 1810.30,534.50 2037.50,534.50" fill="none" stroke="#5A1ADC" stroke-width="6.0" stroke-linejoin="miter" stroke-linecap="butt"/>
<polyline points="1491.30,155.30 1531.70,155.30 1531.70,267.50 1811.00,267.50 1811.00,534.50 2037.50,534.50" fill="none" stroke="#A01EDC" stroke-width="6.0" stroke-linejoin="miter" stroke-linecap="butt"/>
<polyline points="1491.30,269.70 1610.30,269.70 1610.30,245.00 1815.80,245.00 1815.80,534.50 2037.50,534.50" fill="none" stroke="#F50A82" stroke-width="6.0" stroke-linejoin="miter" stroke-linecap="butt"/>
<polyline points="1491.30,320.00 1610.50,320.00 1610.50,278.20 1766.80,278.20 1766.80,537.70 2037.50,537.70" fill="none" stroke="#E00808" stroke-width="6.0" stroke-linejoin="miter" stroke-linecap="butt"/>
<polyline points="1491.30,367.00 1540.50,367.00 1540.50,446.70 1608.80,446.70 1608.80,534.50 2037.50,534.50" fill="none" stroke="#7D0606" stroke-width="6.0" stroke-linejoin="miter" stroke-linecap="butt"/>
<rect x="1494.75" y="68.70" width="540.45" height="540.80" fill="none" stroke="#000" stroke-width="2.8"/>
<text transform="translate(1493.60,620.60) scale(0.961,1)" font-size="31.3" text-anchor="end" fill="#000" stroke="#000" >0.40</text>
<text transform="translate(1493.60,512.44) scale(0.961,1)" font-size="31.3" text-anchor="end" fill="#000" stroke="#000" >0.42</text>
<text transform="translate(1493.60,404.28) scale(0.961,1)" font-size="31.3" text-anchor="end" fill="#000" stroke="#000" >0.44</text>
<text transform="translate(1493.60,296.12) scale(0.961,1)" font-size="31.3" text-anchor="end" fill="#000" stroke="#000" >0.46</text>
<text transform="translate(1493.60,187.96) scale(0.961,1)" font-size="31.3" text-anchor="end" fill="#000" stroke="#000" >0.48</text>
<text transform="translate(1493.60,79.80) scale(0.961,1)" font-size="31.3" text-anchor="end" fill="#000" stroke="#000" >0.50</text>
<text transform="translate(1494.75,639.70) scale(0.961,1)" font-size="31.3" text-anchor="middle" fill="#000" stroke="#000" >0</text>
<text transform="translate(1674.90,639.70) scale(0.961,1)" font-size="31.3" text-anchor="middle" fill="#000" stroke="#000" >500</text>
<text transform="translate(1855.05,639.70) scale(0.961,1)" font-size="31.3" text-anchor="middle" fill="#000" stroke="#000" >1000</text>
<text transform="translate(2036.70,639.70) scale(0.961,1)" font-size="31.3" text-anchor="middle" fill="#000" stroke="#000" >1500</text>
<text transform="translate(1370.00,43.70) scale(0.98,1)" font-size="34.3" text-anchor="start" fill="#000" stroke="#000" >(c)</text>
<text transform="translate(1784.00,113.60) scale(0.972,1)" font-size="31.3" text-anchor="start" fill="#000" stroke="#000" >Mg-implanted AlN</text>
<text transform="translate(1768.90,694.20) scale(0.961,1)" font-size="31.3" text-anchor="middle" fill="#000" stroke="#000" >Depth (nm)</text>
<text transform="translate(1408.5,336.5) rotate(-90) scale(0.961,1)" font-size="31.3" text-anchor="middle" stroke="#000"><tspan font-style="italic">S</tspan> parameter</text>
<polyline points="1548.30,103.70 1530.00,103.70 1506.70,153.30" fill="none" stroke="#A01EDC" stroke-width="1.9" stroke-linejoin="miter" stroke-linecap="butt"/>
<text transform="translate(1549.00,109.00) scale(0.945,1)" font-size="31.3" text-anchor="start" fill="#A01EDC" stroke="#A01EDC" >1200<tspan font-size="20.97" dy="-11.27" stroke="#A01EDC" stroke-width="0.5">o</tspan><tspan dy="11.27">C</tspan></text>
<polyline points="1662.50,133.80 1540.80,133.80 1505.00,187.00" fill="none" stroke="#5A1ADC" stroke-width="1.9" stroke-linejoin="miter" stroke-linecap="butt"/>
<text transform="translate(1663.00,145.50) scale(0.945,1)" font-size="31.3" text-anchor="start" fill="#5A1ADC" stroke="#5A1ADC" >1000<tspan font-size="20.97" dy="-11.27" stroke="#5A1ADC" stroke-width="0.5">o</tspan><tspan dy="11.27">C</tspan></text>
<polyline points="1768.30,177.00 1750.80,177.00 1699.20,242.00" fill="none" stroke="#F50A82" stroke-width="1.9" stroke-linejoin="miter" stroke-linecap="butt"/>
<text transform="translate(1774.00,191.10) scale(0.945,1)" font-size="31.3" text-anchor="start" fill="#F50A82" stroke="#F50A82" >1400<tspan font-size="20.97" dy="-11.27" stroke="#F50A82" stroke-width="0.5">o</tspan><tspan dy="11.27">C</tspan></text>
<line x1="1853.30" y1="352.50" x2="1834.20" y2="370.80" stroke="#0000D2" stroke-width="2.4" stroke-linecap="butt"/>
<text transform="translate(1857.50,356.70) scale(0.961,1)" font-size="31.3" text-anchor="start" fill="#0000D2" stroke="#0000D2" >As-implaned</text>
<line x1="1764.20" y1="460.80" x2="1745.80" y2="476.30" stroke="#E00808" stroke-width="2.4" stroke-linecap="butt"/>
<text transform="translate(1654.00,508.30) scale(0.945,1)" font-size="31.3" text-anchor="start" fill="#E00808" stroke="#E00808" >1600<tspan font-size="20.97" dy="-11.27" stroke="#E00808" stroke-width="0.5">o</tspan><tspan dy="11.27">C</tspan></text>
<line x1="1615.00" y1="538.00" x2="1598.30" y2="553.00" stroke="#7D0606" stroke-width="2.4" stroke-linecap="butt"/>
<text transform="translate(1550.50,585.50) scale(0.945,1)" font-size="31.3" text-anchor="start" fill="#7D0606" stroke="#7D0606" >1700<tspan font-size="20.97" dy="-11.27" stroke="#7D0606" stroke-width="0.5">o</tspan><tspan dy="11.27">C</tspan></text>
</svg>
</body></html>
